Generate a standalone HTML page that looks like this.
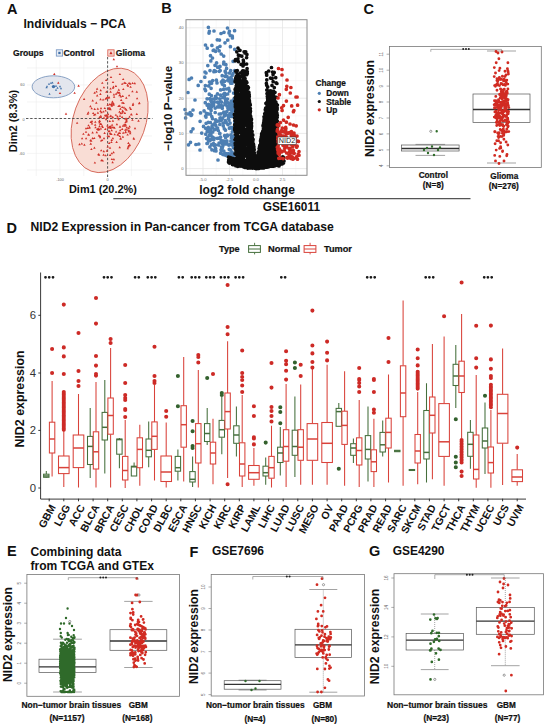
<!DOCTYPE html>
<html><head><meta charset="utf-8"><style>
html,body{margin:0;padding:0;background:#fff;width:550px;height:725px;overflow:hidden}
svg{display:block;font-family:"Liberation Sans",sans-serif}
</style></head><body>
<svg width="550" height="725" viewBox="0 0 550 725">
<rect width="550" height="725" fill="#fff"/>
<text x="7" y="14" font-size="14.5" text-anchor="start" font-weight="bold" fill="#111" >A</text>
<text x="23.5" y="28" font-size="12.1" text-anchor="start" font-weight="bold" fill="#111" >Individuals − PCA</text>
<text x="13" y="56" font-size="8.6" text-anchor="start" font-weight="bold" fill="#111" stroke="#111" stroke-width="0.22" >Groups</text>
<rect x="56.3" y="49.8" width="6.3" height="6.3" fill="#e9edf4" stroke="#6d8fbf" stroke-width="0.8"/>
<rect x="58.3" y="51.8" width="2.3" height="2.3" fill="#3f6fa8"/>
<text x="63.4" y="56" font-size="8.75" text-anchor="start" font-weight="bold" fill="#111" stroke="#111" stroke-width="0.22" >Control</text>
<rect x="107.8" y="49.8" width="6.3" height="6.3" fill="#f7dcd5" stroke="#d9584a" stroke-width="0.8"/>
<path d="M110.95 51.3 L112.6 54.3 L109.3 54.3 Z" fill="#cc2a22"/>
<text x="115.8" y="56" font-size="8.6" text-anchor="start" font-weight="bold" fill="#111" stroke="#111" stroke-width="0.22" >Glioma</text>
<line x1="36.2" y1="60" x2="36.2" y2="176" stroke="#ececec" stroke-width="0.6"/>
<line x1="60" y1="60" x2="60" y2="176" stroke="#ececec" stroke-width="0.6"/>
<line x1="83.8" y1="60" x2="83.8" y2="176" stroke="#ececec" stroke-width="0.6"/>
<line x1="107.6" y1="60" x2="107.6" y2="176" stroke="#ececec" stroke-width="0.6"/>
<line x1="131.4" y1="60" x2="131.4" y2="176" stroke="#ececec" stroke-width="0.6"/>
<line x1="27" y1="68" x2="152" y2="68" stroke="#ececec" stroke-width="0.6"/>
<line x1="27" y1="85" x2="152" y2="85" stroke="#ececec" stroke-width="0.6"/>
<line x1="27" y1="102" x2="152" y2="102" stroke="#ececec" stroke-width="0.6"/>
<line x1="27" y1="118.5" x2="152" y2="118.5" stroke="#ececec" stroke-width="0.6"/>
<line x1="27" y1="136" x2="152" y2="136" stroke="#ececec" stroke-width="0.6"/>
<line x1="27" y1="153.4" x2="152" y2="153.4" stroke="#ececec" stroke-width="0.6"/>
<line x1="27" y1="170" x2="152" y2="170" stroke="#ececec" stroke-width="0.6"/>
<ellipse cx="53.4" cy="86.8" rx="21.3" ry="11" fill="#e3e6ee" stroke="#7c97bd" stroke-width="0.9"/>
<ellipse cx="109.6" cy="120.4" rx="36" ry="54" transform="rotate(20 109.6 120.4)" fill="#f9ddd5" stroke="#d66a5c" stroke-width="0.9"/>
<line x1="26" y1="118.5" x2="152.5" y2="118.5" stroke="#444" stroke-width="0.9" stroke-dasharray="2.4 1.8"/>
<line x1="107.6" y1="57" x2="107.6" y2="177" stroke="#444" stroke-width="0.9" stroke-dasharray="2.4 1.8"/>
<text x="24.5" y="86.3" font-size="3.8" text-anchor="end" font-weight="normal" fill="#666" >60</text>
<text x="24.5" y="120.6" font-size="3.8" text-anchor="end" font-weight="normal" fill="#666" >0</text>
<text x="24.5" y="154.7" font-size="3.8" text-anchor="end" font-weight="normal" fill="#666" >-60</text>
<text x="60" y="181" font-size="3.8" text-anchor="middle" font-weight="normal" fill="#666" >-100</text>
<text x="107.6" y="181" font-size="3.8" text-anchor="middle" font-weight="normal" fill="#666" >0</text>
<path d="M111.8 152.2l1.25 2.15h-2.5zM107.2 96.2l1.25 2.15h-2.5zM102.7 159.3l1.25 2.15h-2.5zM126.3 96.5l1.25 2.15h-2.5zM100.8 114.7l1.25 2.15h-2.5zM124.9 124.5l1.25 2.15h-2.5zM108.1 113.1l1.25 2.15h-2.5zM119.7 104.6l1.25 2.15h-2.5zM109.3 125.7l1.25 2.15h-2.5zM135 127l1.25 2.15h-2.5zM133.1 102.6l1.25 2.15h-2.5zM122.2 127.8l1.25 2.15h-2.5zM104 116.6l1.25 2.15h-2.5zM126.6 117.5l1.25 2.15h-2.5zM113.9 158.1l1.25 2.15h-2.5zM90.8 120.8l1.25 2.15h-2.5zM94.3 136.9l1.25 2.15h-2.5zM110.7 125.2l1.25 2.15h-2.5zM122.6 109.5l1.25 2.15h-2.5zM118.5 104.9l1.25 2.15h-2.5zM125.6 81.9l1.25 2.15h-2.5zM97.2 94.3l1.25 2.15h-2.5zM116.6 140.8l1.25 2.15h-2.5zM120.4 107.6l1.25 2.15h-2.5zM95.5 126.2l1.25 2.15h-2.5zM95.3 120.7l1.25 2.15h-2.5zM125.7 123.5l1.25 2.15h-2.5zM116.9 123l1.25 2.15h-2.5zM94.2 113.6l1.25 2.15h-2.5zM92.7 99.3l1.25 2.15h-2.5zM103.8 150.1l1.25 2.15h-2.5zM96.3 101.5l1.25 2.15h-2.5zM110.5 132.6l1.25 2.15h-2.5zM91.2 139.5l1.25 2.15h-2.5zM105.3 127.8l1.25 2.15h-2.5zM129.4 144l1.25 2.15h-2.5zM121.2 98.8l1.25 2.15h-2.5zM113.4 85.6l1.25 2.15h-2.5zM132.4 118.7l1.25 2.15h-2.5zM129.9 106.4l1.25 2.15h-2.5zM99.2 128l1.25 2.15h-2.5zM120.6 112l1.25 2.15h-2.5zM128.6 144.5l1.25 2.15h-2.5zM122.8 94.8l1.25 2.15h-2.5zM115.9 113.7l1.25 2.15h-2.5zM104 137.1l1.25 2.15h-2.5zM101.1 122.8l1.25 2.15h-2.5zM119.9 131.8l1.25 2.15h-2.5zM119.9 93.7l1.25 2.15h-2.5zM90.4 105l1.25 2.15h-2.5zM120 125.3l1.25 2.15h-2.5zM136.8 90.5l1.25 2.15h-2.5zM132.9 103.9l1.25 2.15h-2.5zM89.5 125.9l1.25 2.15h-2.5zM124 106.3l1.25 2.15h-2.5zM101.3 111.1l1.25 2.15h-2.5zM112.6 116l1.25 2.15h-2.5zM128.7 130.3l1.25 2.15h-2.5zM106.2 78.8l1.25 2.15h-2.5zM104.8 106.9l1.25 2.15h-2.5zM120 114.7l1.25 2.15h-2.5zM114.5 126.5l1.25 2.15h-2.5zM125.3 128.5l1.25 2.15h-2.5zM110.5 108l1.25 2.15h-2.5zM100.6 109.8l1.25 2.15h-2.5zM100.9 115.9l1.25 2.15h-2.5zM111.4 132.9l1.25 2.15h-2.5zM86.1 137.2l1.25 2.15h-2.5zM107.8 115.4l1.25 2.15h-2.5zM119.9 72.9l1.25 2.15h-2.5zM129.1 81.8l1.25 2.15h-2.5zM126.8 126.1l1.25 2.15h-2.5zM128.4 141.8l1.25 2.15h-2.5zM110.1 153.8l1.25 2.15h-2.5zM98.4 153l1.25 2.15h-2.5zM107.4 124.4l1.25 2.15h-2.5zM97.3 127.8l1.25 2.15h-2.5zM124.9 111.8l1.25 2.15h-2.5zM93.2 111.9l1.25 2.15h-2.5zM118.6 118.1l1.25 2.15h-2.5zM103.1 98.4l1.25 2.15h-2.5zM91.4 147.9l1.25 2.15h-2.5zM94.7 107.8l1.25 2.15h-2.5zM129.8 143.7l1.25 2.15h-2.5zM125.6 120.9l1.25 2.15h-2.5zM113.7 126.2l1.25 2.15h-2.5zM128.3 145.7l1.25 2.15h-2.5zM120.9 95.4l1.25 2.15h-2.5zM110.2 115.2l1.25 2.15h-2.5zM108.5 96.7l1.25 2.15h-2.5zM97.9 111.5l1.25 2.15h-2.5zM99.5 125.1l1.25 2.15h-2.5zM123.2 131.5l1.25 2.15h-2.5zM99.1 153.6l1.25 2.15h-2.5zM132.4 90.2l1.25 2.15h-2.5zM99.4 119.8l1.25 2.15h-2.5zM92.6 131.3l1.25 2.15h-2.5zM120.6 137.1l1.25 2.15h-2.5zM87.7 112.5l1.25 2.15h-2.5zM139.4 101.7l1.25 2.15h-2.5zM103.9 86.2l1.25 2.15h-2.5zM111 75.9l1.25 2.15h-2.5zM115.9 84.8l1.25 2.15h-2.5zM88.9 133.6l1.25 2.15h-2.5zM112.9 119.5l1.25 2.15h-2.5zM100 134.9l1.25 2.15h-2.5zM102.1 124.6l1.25 2.15h-2.5zM106.7 114.1l1.25 2.15h-2.5zM119.4 94.2l1.25 2.15h-2.5zM113.6 103.6l1.25 2.15h-2.5zM90.8 142.4l1.25 2.15h-2.5zM112.2 101.7l1.25 2.15h-2.5zM125.4 117.6l1.25 2.15h-2.5zM94.9 161.4l1.25 2.15h-2.5zM113.6 151l1.25 2.15h-2.5zM106.9 149.6l1.25 2.15h-2.5zM101.1 139.4l1.25 2.15h-2.5zM129.5 115.5l1.25 2.15h-2.5zM88.5 124.2l1.25 2.15h-2.5zM104.6 131.8l1.25 2.15h-2.5zM98.4 127.6l1.25 2.15h-2.5zM133.7 137l1.25 2.15h-2.5zM136.8 112.8l1.25 2.15h-2.5zM126.9 128.3l1.25 2.15h-2.5zM127.6 133.4l1.25 2.15h-2.5zM113.6 102.3l1.25 2.15h-2.5zM128.7 126.9l1.25 2.15h-2.5zM117.6 133.4l1.25 2.15h-2.5zM77.1 121.7l1.25 2.15h-2.5zM102.7 125.8l1.25 2.15h-2.5zM132.6 81.9l1.25 2.15h-2.5zM107.2 116.1l1.25 2.15h-2.5zM109.2 141.8l1.25 2.15h-2.5zM103.3 110.4l1.25 2.15h-2.5zM134.8 82l1.25 2.15h-2.5zM128.9 129.1l1.25 2.15h-2.5zM124.3 81.6l1.25 2.15h-2.5zM110.5 126.9l1.25 2.15h-2.5zM129.1 94.2l1.25 2.15h-2.5zM105.6 97.6l1.25 2.15h-2.5zM122.2 101.4l1.25 2.15h-2.5zM102.1 138.9l1.25 2.15h-2.5zM94.4 146.5l1.25 2.15h-2.5zM117.4 115.2l1.25 2.15h-2.5zM122.9 135.6l1.25 2.15h-2.5zM111.8 104.7l1.25 2.15h-2.5zM107.8 126.4l1.25 2.15h-2.5zM125.4 131l1.25 2.15h-2.5zM113 86.7l1.25 2.15h-2.5zM111.7 129l1.25 2.15h-2.5zM131.6 113.4l1.25 2.15h-2.5zM86 130.7l1.25 2.15h-2.5zM118.5 91.5l1.25 2.15h-2.5zM127.8 147.2l1.25 2.15h-2.5zM109.9 125.6l1.25 2.15h-2.5zM92.6 137l1.25 2.15h-2.5zM108.6 106.9l1.25 2.15h-2.5zM116.1 92.6l1.25 2.15h-2.5zM112.6 161.1l1.25 2.15h-2.5zM112 103.5l1.25 2.15h-2.5zM84.1 97.8l1.25 2.15h-2.5zM126.7 120.1l1.25 2.15h-2.5zM112.9 116l1.25 2.15h-2.5zM90.5 139.1l1.25 2.15h-2.5zM100.7 89l1.25 2.15h-2.5zM109.8 106.7l1.25 2.15h-2.5zM131.6 113.4l1.25 2.15h-2.5zM122.1 111.5l1.25 2.15h-2.5zM129.6 125.3l1.25 2.15h-2.5zM128 84.6l1.25 2.15h-2.5zM126.4 108.6l1.25 2.15h-2.5zM119.8 134.9l1.25 2.15h-2.5zM110 146.6l1.25 2.15h-2.5zM123.6 101.8l1.25 2.15h-2.5zM112.1 123.7l1.25 2.15h-2.5zM89.5 126.5l1.25 2.15h-2.5zM130.2 132l1.25 2.15h-2.5zM109.2 129.8l1.25 2.15h-2.5zM131.2 113l1.25 2.15h-2.5zM130.8 107.8l1.25 2.15h-2.5zM114.7 133.2l1.25 2.15h-2.5zM87.6 126.9l1.25 2.15h-2.5zM127.6 83.6l1.25 2.15h-2.5zM109.8 103l1.25 2.15h-2.5zM95.2 123.6l1.25 2.15h-2.5zM99.5 116.1l1.25 2.15h-2.5zM97.8 107.6l1.25 2.15h-2.5zM134 137.6l1.25 2.15h-2.5zM96.5 90.4l1.25 2.15h-2.5zM122.2 82.7l1.25 2.15h-2.5zM125.5 123.2l1.25 2.15h-2.5zM109.8 119.9l1.25 2.15h-2.5zM110.6 90.5l1.25 2.15h-2.5zM109.1 135.2l1.25 2.15h-2.5zM123.2 77.9l1.25 2.15h-2.5zM106.1 118.1l1.25 2.15h-2.5zM81.8 142.4l1.25 2.15h-2.5zM95.2 113.2l1.25 2.15h-2.5zM88.4 133.3l1.25 2.15h-2.5zM100.4 92.8l1.25 2.15h-2.5zM137.1 97.2l1.25 2.15h-2.5zM99.2 128.1l1.25 2.15h-2.5zM130.3 82.5l1.25 2.15h-2.5zM122.1 115.8l1.25 2.15h-2.5zM118.9 131.8l1.25 2.15h-2.5zM109.2 107.8l1.25 2.15h-2.5zM122.2 105.9l1.25 2.15h-2.5zM112.4 100.4l1.25 2.15h-2.5zM107.8 134.5l1.25 2.15h-2.5zM88.3 111.3l1.25 2.15h-2.5zM103.6 153.6l1.25 2.15h-2.5zM90.6 142.7l1.25 2.15h-2.5zM100.9 127.4l1.25 2.15h-2.5zM112.2 126.1l1.25 2.15h-2.5zM114.1 95.7l1.25 2.15h-2.5zM110.9 114.6l1.25 2.15h-2.5zM118.8 88.6l1.25 2.15h-2.5zM92 122.3l1.25 2.15h-2.5zM126.5 118.9l1.25 2.15h-2.5zM106.4 90.5l1.25 2.15h-2.5zM96.8 131l1.25 2.15h-2.5zM123.3 87.9l1.25 2.15h-2.5zM92 120.1l1.25 2.15h-2.5zM101.4 159l1.25 2.15h-2.5zM130.2 130.4l1.25 2.15h-2.5zM99.8 119.8l1.25 2.15h-2.5zM100.5 98l1.25 2.15h-2.5zM120.6 137.5l1.25 2.15h-2.5zM111.9 157.9l1.25 2.15h-2.5zM98.9 134.3l1.25 2.15h-2.5zM109.7 126.2l1.25 2.15h-2.5zM110.1 131.9l1.25 2.15h-2.5zM102.3 81.7l1.25 2.15h-2.5zM108.6 130.1l1.25 2.15h-2.5zM105.1 114.1l1.25 2.15h-2.5zM83.4 132.7l1.25 2.15h-2.5zM105.7 154.2l1.25 2.15h-2.5zM106.1 114.6l1.25 2.15h-2.5zM101.2 149.2l1.25 2.15h-2.5zM116.1 130.4l1.25 2.15h-2.5zM94.6 91.6l1.25 2.15h-2.5zM91.7 107.2l1.25 2.15h-2.5zM123 124.5l1.25 2.15h-2.5zM84.4 143.5l1.25 2.15h-2.5zM125.7 130.6l1.25 2.15h-2.5zM139.1 102.1l1.25 2.15h-2.5zM105.6 109.4l1.25 2.15h-2.5zM117.9 116.9l1.25 2.15h-2.5zM138.5 119.5l1.25 2.15h-2.5zM117.6 91.1l1.25 2.15h-2.5zM111.7 138.8l1.25 2.15h-2.5zM110.5 87.4l1.25 2.15h-2.5zM82.1 137.2l1.25 2.15h-2.5zM120.2 129.1l1.25 2.15h-2.5zM118.1 133.5l1.25 2.15h-2.5zM130.6 85.7l1.25 2.15h-2.5zM112.9 137l1.25 2.15h-2.5zM119.7 146l1.25 2.15h-2.5zM99.4 121.1l1.25 2.15h-2.5zM79.5 143.1l1.25 2.15h-2.5zM86 127.2l1.25 2.15h-2.5zM106.4 96.9l1.25 2.15h-2.5zM101 107.1l1.25 2.15h-2.5zM107.7 145.4l1.25 2.15h-2.5zM100.1 136.1l1.25 2.15h-2.5zM100.2 122.6l1.25 2.15h-2.5zM119.9 125.6l1.25 2.15h-2.5zM125.4 107.5l1.25 2.15h-2.5zM111.1 103.3l1.25 2.15h-2.5zM109.1 96.1l1.25 2.15h-2.5zM119.5 91.5l1.25 2.15h-2.5zM98.3 128.7l1.25 2.15h-2.5zM97.1 87.6l1.25 2.15h-2.5zM113.9 93.3l1.25 2.15h-2.5zM119.5 110.5l1.25 2.15h-2.5zM113 80.9l1.25 2.15h-2.5zM123.2 110.4l1.25 2.15h-2.5zM124.2 123.3l1.25 2.15h-2.5zM111.4 140.9l1.25 2.15h-2.5zM107.7 103.6l1.25 2.15h-2.5zM54.3 72.8l1.25 2.15h-2.5zM58.3 81.5l1.25 2.15h-2.5zM78.6 84.6l1.25 2.15h-2.5zM74.6 91.7l1.25 2.15h-2.5zM60 91.9l1.25 2.15h-2.5zM66 112.5l1.25 2.15h-2.5zM113.8 58.1l1.25 2.15h-2.5zM117 65.2l1.25 2.15h-2.5z" fill="#d0322a"/>
<path d="M49 82.8l1.1 1.9h-2.2zM51 81.8l1.1 1.9h-2.2zM52.5 81.6l1.1 1.9h-2.2zM47 85.3l1.1 1.9h-2.2zM56 84.8l1.1 1.9h-2.2zM57.5 86.8l1.1 1.9h-2.2zM60 85.3l1.1 1.9h-2.2zM56 88.8l1.1 1.9h-2.2zM49.5 92.8l1.1 1.9h-2.2zM46.5 86.3l1.1 1.9h-2.2zM61 87.3l1.1 1.9h-2.2z" fill="#3f6fa8"/>
<circle cx="53.5" cy="86.6" r="1.7" fill="#3f6fa8"/>
<text x="69" y="192.8" font-size="10.9" text-anchor="start" font-weight="bold" fill="#111" >Dim1 (20.2%)</text>
<text x="0" y="0" font-size="11" font-weight="bold" fill="#111" text-anchor="middle" transform="translate(17.4 121) rotate(-90)">Dim2 (8.3%)</text>
<text x="161.3" y="13.2" font-size="14.5" text-anchor="start" font-weight="bold" fill="#111" >B</text>
<line x1="189.8" y1="19.7" x2="189.8" y2="175.3" stroke="#f2f2f2" stroke-width="0.5"/>
<line x1="216.2" y1="19.7" x2="216.2" y2="175.3" stroke="#f2f2f2" stroke-width="0.5"/>
<line x1="242.8" y1="19.7" x2="242.8" y2="175.3" stroke="#f2f2f2" stroke-width="0.5"/>
<line x1="269.2" y1="19.7" x2="269.2" y2="175.3" stroke="#f2f2f2" stroke-width="0.5"/>
<line x1="295.8" y1="19.7" x2="295.8" y2="175.3" stroke="#f2f2f2" stroke-width="0.5"/>
<line x1="186" y1="151" x2="307" y2="151" stroke="#f2f2f2" stroke-width="0.5"/>
<line x1="186" y1="115.8" x2="307" y2="115.8" stroke="#f2f2f2" stroke-width="0.5"/>
<line x1="186" y1="80.6" x2="307" y2="80.6" stroke="#f2f2f2" stroke-width="0.5"/>
<line x1="186" y1="45.4" x2="307" y2="45.4" stroke="#f2f2f2" stroke-width="0.5"/>
<line x1="203" y1="19.7" x2="203" y2="175.3" stroke="#e6e6e6" stroke-width="0.8"/>
<line x1="229.5" y1="19.7" x2="229.5" y2="175.3" stroke="#e6e6e6" stroke-width="0.8"/>
<line x1="256" y1="19.7" x2="256" y2="175.3" stroke="#e6e6e6" stroke-width="0.8"/>
<line x1="282.5" y1="19.7" x2="282.5" y2="175.3" stroke="#e6e6e6" stroke-width="0.8"/>
<line x1="186" y1="168.6" x2="307" y2="168.6" stroke="#e6e6e6" stroke-width="0.8"/>
<line x1="186" y1="133.4" x2="307" y2="133.4" stroke="#e6e6e6" stroke-width="0.8"/>
<line x1="186" y1="98.2" x2="307" y2="98.2" stroke="#e6e6e6" stroke-width="0.8"/>
<line x1="186" y1="63" x2="307" y2="63" stroke="#e6e6e6" stroke-width="0.8"/>
<line x1="186" y1="27.8" x2="307" y2="27.8" stroke="#e6e6e6" stroke-width="0.8"/>
<text x="203" y="181.2" font-size="4.3" text-anchor="middle" font-weight="normal" fill="#777" >-5.0</text>
<text x="229.5" y="181.2" font-size="4.3" text-anchor="middle" font-weight="normal" fill="#777" >-2.5</text>
<text x="256" y="181.2" font-size="4.3" text-anchor="middle" font-weight="normal" fill="#777" >0.0</text>
<text x="282.5" y="181.2" font-size="4.3" text-anchor="middle" font-weight="normal" fill="#777" >2.5</text>
<text x="183.5" y="170" font-size="4.2" text-anchor="end" font-weight="normal" fill="#666" >0</text>
<text x="183.5" y="134.8" font-size="4.2" text-anchor="end" font-weight="normal" fill="#666" >10</text>
<text x="183.5" y="99.6" font-size="4.2" text-anchor="end" font-weight="normal" fill="#666" >20</text>
<text x="183.5" y="64.4" font-size="4.2" text-anchor="end" font-weight="normal" fill="#666" >30</text>
<text x="183.5" y="29.2" font-size="4.2" text-anchor="end" font-weight="normal" fill="#666" >40</text>
<path d="M207.2 48.2h0M234.7 49.3h0M213.2 50.5h0M223.8 62.1h0M211.9 45.4h0M217.3 39.8h0M210.8 60.9h0M232.4 37.9h0M225 42.8h0M212.5 58h0M219.5 40.1h0M220 46.3h0M209.4 31.3h0M213.8 50h0M229.4 31.3h0M217.4 47.9h0M230.4 46.7h0M210.5 55.7h0M216.6 62.9h0M209 33.1h0M230.2 35.3h0M215.6 51.3h0M233.1 61.3h0M219.2 50.8h0M227.7 40.1h0M234.6 30.7h0M224 32.3h0M223.7 56.1h0M221.2 54h0M232.3 36.2h0M232.2 75.4h0M215.2 71.1h0M231 77.7h0M232 83.2h0M224.4 85.7h0M222.9 80.1h0M232 79.6h0M233 73.5h0M234 81.2h0M234.7 70.7h0M205 72h0M221.4 81.9h0M211.4 95.5h0M224.6 81.3h0M230.2 82.1h0M224.7 93.3h0M217 82.9h0M231.6 79.4h0M228.6 78.2h0M225.8 72.9h0M216.7 98.1h0M225.2 71.5h0M225.2 71.1h0M207.8 65.6h0M211.6 83.2h0M220.6 95.2h0M226.5 89h0M210 70.6h0M215.7 71.3h0M222.2 75.7h0M224.6 97.7h0M219.2 67.3h0M220 66.4h0M223.6 89.3h0M230.6 83.1h0M226 94.3h0M225.9 64.7h0M210.6 83.4h0M228.3 80.7h0M225.3 76.4h0M226.9 76.3h0M211.1 88.3h0M228.7 78.2h0M217.6 67.2h0M209.5 82h0M220.2 70.5h0M217.5 93.9h0M223.8 94.1h0M214.3 70.7h0M215.5 96.3h0M223 97.6h0M213.9 71.7h0M229.4 73h0M233.6 93.1h0M205.6 90.6h0M215 65.3h0M211.1 82.2h0M222.3 84.1h0M230.7 70.6h0M219.3 71.3h0M220.6 89.9h0M227.6 94h0M212.7 80.6h0M223.7 63.9h0M224.3 85.7h0M228.7 88.4h0M227.9 80.2h0M222.6 81.7h0M208.7 85.9h0M216.4 80.2h0M204.8 77.2h0M205.4 85.5h0M229.6 90.9h0M209.3 94.2h0M226.6 68.4h0M234 116.4h0M226 143.1h0M207.2 105.2h0M230.8 150.2h0M221 149.8h0M207.2 131.6h0M228.2 153.7h0M223.1 123h0M232.8 116.4h0M222.3 108.3h0M208.2 104.7h0M224.6 135.6h0M218.3 130.5h0M224.1 141.1h0M232.3 152.5h0M218.4 103h0M205.8 134.2h0M231 153h0M233.2 109.1h0M227.3 135.1h0M231.2 116.2h0M231.3 101h0M234.6 102.7h0M225.5 130.2h0M222.7 141.2h0M208.3 122.3h0M221.3 105.3h0M217.5 106.9h0M232.9 140.8h0M230.8 127.4h0M229.6 104.3h0M230.9 134.8h0M225.6 137.5h0M215.8 125.3h0M212.7 131.9h0M211.3 106.7h0M225.7 101.8h0M207.9 137h0M221.1 105.4h0M230.4 106.1h0M228.5 108.8h0M226.4 101.4h0M209.8 129.7h0M234.7 121.7h0M220.6 137.3h0M208.3 127.4h0M221.8 141.6h0M215 122.9h0M232.4 101.9h0M229.2 149.3h0M215.3 129.1h0M212.4 128h0M221 113.8h0M209.9 140.7h0M233.1 129.8h0M232.2 110.6h0M227.5 135.8h0M233.6 142.6h0M226.9 140.9h0M230.9 141.2h0M215.3 144.9h0M222.6 118h0M234.6 109.3h0M214.1 138h0M234.1 155h0M209.9 146.9h0M219.3 120.9h0M217.6 128h0M224.3 128.8h0M214.1 145.6h0M229.4 128.2h0M225.3 120.5h0M226 100.1h0M230.8 102.9h0M234.7 109.7h0M233.3 141.6h0M225 103.4h0M232.7 128h0M212.9 124.9h0M215.4 98.2h0M212.5 137.2h0M227.9 124.6h0M214.4 99.2h0M210.9 109.4h0M219.2 114h0M210 108.4h0M231.8 144.9h0M225.6 100.2h0M228.2 109.2h0M228.7 115.4h0M210 98.7h0M220.5 120.6h0M231.9 107.2h0M230.9 150.5h0M210.4 122.6h0M223.9 144.2h0M208 113.9h0M210.2 129.3h0M223.3 125.9h0M233.5 158h0M219.7 133.5h0M211.1 110.4h0M217.2 121.2h0M230.1 123.1h0M217.3 138.3h0M223.8 151.1h0M217.1 128.8h0M230.7 115.5h0M212.6 138.9h0M234.8 123.8h0M207 143.4h0M212.5 118.7h0M216 151h0M225.9 153.5h0M207.1 98.8h0M215.7 119.9h0M213.5 143.7h0M205.7 128.3h0M224.9 154.9h0M233.7 102.7h0M231.2 128h0M215.2 112.5h0M224.5 115.8h0M211.3 139.2h0M226.2 122.7h0M216.4 121.4h0M234.5 144.7h0M227 106h0M219 138.1h0M220.6 137.2h0M206.4 113.3h0M209.7 129.1h0M232.7 111h0M231.6 107.1h0M213.7 105.3h0M220.4 117.9h0M234.5 142.5h0M232.9 155.2h0M221.7 150.7h0M222.9 145.8h0M231.4 110.2h0M205.6 116.2h0M219 143.2h0M225.1 104.5h0M233.8 136.2h0M230.1 144.5h0M232.3 114.4h0M227.5 99h0M228 115.3h0M226.8 111.5h0M234 99.2h0M230 113.7h0M228 155.8h0M221.5 147h0M213.2 139.3h0M234.2 126.5h0M220 118h0M215.7 148.8h0M208.7 107.9h0M214.5 150.7h0M228.8 145.1h0M209.6 135.2h0M225.9 143.9h0M215 144.9h0M223.8 112.2h0M226.9 143.2h0M222.4 143.7h0M215.2 108.1h0M230.3 154.8h0M226.6 155.6h0M210.8 100.6h0M219.8 124.5h0M219.9 133.4h0M221.5 119.7h0M210.9 134.3h0M232.3 131.8h0M234.2 140.4h0M222.4 106.3h0M219.9 98.9h0M213.1 99h0M209.6 132.2h0M231.6 116.4h0M214.8 129.6h0M211.8 116.6h0M211.9 149.8h0M211.2 104.4h0M230.3 107.7h0M229.6 107.1h0M211.4 106.9h0M233.4 147.3h0M221.2 140.6h0M226.4 100.6h0M208.5 140.3h0M231.9 111.5h0M220.6 153.2h0M206.6 138.6h0M233.6 105.2h0M211.6 144.6h0M220.3 101.4h0M205.3 102.7h0M211.2 101.5h0M225.8 114.9h0M210.6 107.4h0M219.6 107h0M214.1 102.3h0M208.7 104.6h0M231.5 137.9h0M222.9 154.5h0M229 105.8h0M206.1 123.3h0M222.2 148.1h0M221.6 102h0M228.4 118.4h0M212 126.4h0M224.8 114.6h0M231.7 138.1h0M230.4 154.1h0M230.1 108.2h0M214.4 129.7h0M233 127.8h0M229 120.1h0M210.5 130.9h0M227.9 108.3h0M210.5 113.9h0M227.6 102.5h0M234 98.9h0M215.4 148.1h0M231.8 110.5h0M207.6 143.2h0M218.9 106h0M217.3 102.1h0M209.7 140h0M233.6 104.8h0M230 105.6h0M206.8 128.6h0M213.8 139.7h0M222.4 147.5h0M218.6 145h0M225 154.2h0M206 117.1h0M191.1 131.6h0M200.5 112.9h0M195.9 144.5h0M191.7 114.6h0M201.7 133.1h0M185 109.6h0M188.5 144.8h0M186.2 113.7h0M193 128.8h0M198.8 144h0M190.1 112.6h0M189.1 79.4h0M191.1 115.4h0M204.1 110.9h0M188.9 114h0M204.9 89h0M190.5 142.3h0M203.5 126.4h0M185.6 117.9h0M200.1 121.3h0M200.9 81.5h0M198.2 85.4h0M208.4 27.3h0M214 31h0M221 33.5h0M227.5 28h0M229 33h0M205.5 45h0M191.5 78h0M188 92.5h0M206 73h0M195 100h0M193 110h0M200 150h0M218 160h0" stroke="#4d7fb3" stroke-width="3.7" stroke-linecap="round" fill="none"/>
<path d="M254.4 156.4h0M254.6 160.7h0M242.8 113.1h0M268.2 152.6h0M238.8 94.1h0M237 86.3h0M262.2 140.9h0M235 115.2h0M242.4 135.3h0M254.8 161h0M256.8 162.8h0M262.7 144.8h0M277.4 105.1h0M264.5 143.5h0M247.3 155h0M251.7 132.7h0M274.9 106.9h0M243.7 86.1h0M275.9 132.6h0M261.3 141.1h0M239 127.7h0M266.7 151.6h0M239.4 154.8h0M242.3 109.6h0M242.5 97.6h0M262 160.3h0M244.3 132.8h0M269.2 133.7h0M244.1 122.2h0M262.5 161.2h0M244.1 133.9h0M248.3 134.7h0M238.4 109h0M260.2 155.6h0M275.5 126.2h0M271.2 143.7h0M273.1 102.6h0M243.3 97.1h0M243.5 83.7h0M260 154.2h0M236.2 87.6h0M265 147.3h0M259.8 158.1h0M265.1 158.9h0M258.6 154.1h0M246.4 88.4h0M235.4 134.2h0M237.2 141.9h0M258.9 164h0M272.7 92.1h0M263.7 134.3h0M236.7 161.1h0M264 116.8h0M262 147.9h0M247.9 87.1h0M258.4 157.8h0M266.3 117h0M273.8 131.5h0M272.9 98.8h0M268.4 97.2h0M261.4 152.4h0M260.8 163.8h0M277.1 109.6h0M251.4 130.9h0M253.1 147.9h0M266.7 161.9h0M255.4 165.7h0M256.3 164.6h0M245.4 164.1h0M263.2 153.6h0M273.1 111.3h0M272.8 132.1h0M243.5 119.3h0M273.4 99.9h0M259.2 159h0M256.2 163.5h0M264.7 113.8h0M241.7 117.7h0M244 120.7h0M256.1 165.9h0M276 129.6h0M235.7 93.1h0M264.7 130.7h0M268 162.7h0M254.4 167.3h0M244.4 145.6h0M261.6 149.9h0M263 134.9h0M263.8 153h0M242.3 163.7h0M264.9 150.9h0M249.5 114.3h0M260.7 144.7h0M268 94.8h0M274 110.5h0M254.4 155.7h0M251.2 132.8h0M268.5 92.8h0M262.6 155.8h0M269.7 110.7h0M244.3 86.8h0M276.5 124.6h0M248.7 92.4h0M249.5 156.4h0M258.1 156.8h0M235.6 97h0M268.5 144.7h0M267.9 147.8h0M257 162.5h0M264 121.4h0M274.8 153.9h0M257.4 164.7h0M262.2 146.2h0M258.4 161.4h0M270.3 95.9h0M270.9 92.2h0M259.1 162.3h0M255.7 164.6h0M275.8 125.1h0M268.8 115.5h0M264.1 160.8h0M252.8 135h0M245.8 117.3h0M253.6 145.8h0M254.7 164.8h0M260.6 140.3h0M267.5 162.1h0M244.3 100.7h0M249.5 122.3h0M265.8 153.4h0M245.5 139.8h0M253.2 156h0M256.9 165.9h0M261.6 144.3h0M271.3 112.8h0M245 97.1h0M272.9 133.4h0M274.4 141.8h0M272.2 148.2h0M265.2 144h0M270.4 125.2h0M240.3 121.2h0M235.7 140h0M273.1 95h0M256.2 163.6h0M263.4 153.4h0M239.4 158.2h0M256.3 163.6h0M243 138.9h0M276.4 107.1h0M237.4 87h0M267.2 133.6h0M256.7 164.5h0M235.7 104.2h0M242.7 117.4h0M251.6 156.3h0M256.9 168.2h0M269.2 106.7h0M261.6 151.1h0M256.5 162.8h0M246 86.8h0M267.7 99.9h0M273 97.8h0M267.2 105h0M265.3 158.6h0M254.5 168.1h0M261.6 143.4h0M274.7 114.7h0M262.8 141.4h0M251.5 122.5h0M265 124.5h0M236 109.2h0M245.2 122.1h0M242.7 123.7h0M245.5 86.5h0M256.4 162.4h0M277.3 121h0M238.3 108.5h0M236.4 89.1h0M254.8 165.7h0M261.2 164.6h0M252.7 148.3h0M250.5 143.9h0M258.8 161.8h0M247.1 163.9h0M236.9 143.9h0M251.6 126h0M237.4 85.5h0M237.8 89.1h0M254.8 160.3h0M257.2 160.4h0M255 157.2h0M260.5 162.7h0M253.7 163h0M257.1 166.4h0M262.9 144.1h0M259.8 157.1h0M257.8 158.6h0M265.5 144.4h0M272.8 102.9h0M250.2 143.4h0M258.9 156.6h0M266.5 145.7h0M276.7 106.3h0M236.2 154.6h0M252.4 147.1h0M257.4 166.6h0M263.6 139.2h0M250.3 135.7h0M249.7 110.9h0M238.3 147.6h0M261 142.5h0M253.1 156.9h0M250.9 126h0M248.8 115.4h0M273.7 126.8h0M238.5 89.7h0M238.3 110.5h0M264.1 147.9h0M238.2 138.2h0M238.5 130.2h0M263.9 147.4h0M249.8 118h0M239.8 99.4h0M274.2 97.4h0M253.2 147.6h0M248.7 125.4h0M272.6 138.2h0M250.2 139.4h0M251.3 153.5h0M268.9 116.9h0M258.9 163.5h0M271.7 135.6h0M256.7 163.7h0M276.1 117.6h0M237.8 112.4h0M238.6 152h0M273.1 153.3h0M241 96.6h0M245.5 137.5h0M256.8 161.7h0M249.3 96.2h0M256 164.6h0M264.7 116.3h0M270.2 109.2h0M269.4 99.1h0M275.4 117.4h0M264.8 120.2h0M252.9 160.3h0M276.5 134.6h0M243.3 119.8h0M275.7 156.9h0M239.9 103.6h0M242.4 154.9h0M259.1 148.5h0M239.1 140.6h0M244.9 98.7h0M244.1 140.9h0M241.9 95.9h0M258 156.6h0M246.3 88.5h0M249.8 121.4h0M254.8 165.9h0M274.9 108h0M256.9 162.7h0M276.5 119.6h0M235.1 119.1h0M268.7 106.1h0M241.3 143.5h0M245.8 89.6h0M261.6 134.2h0M257.7 165.7h0M235.2 97.6h0M269.4 153.9h0M265.2 156.7h0M254.8 157.5h0M271.4 133.8h0M252.1 137.2h0M269.9 141.5h0M257.4 166.1h0M247.6 132.1h0M248 119.8h0M249.7 120.7h0M252 143.2h0M269.5 110h0M250.5 127h0M258.2 158.6h0M276.6 113h0M260.8 156.1h0M257.5 163.5h0M251.2 134.9h0M243.1 97.7h0M275.1 120.5h0M248.5 100.8h0M240.9 150.4h0M264.7 151.5h0M269.9 113.9h0M244 143.8h0M252.5 162.5h0M253.1 150.4h0M267.2 102h0M248.4 126.8h0M252.3 137.3h0M268.4 109.3h0M235.4 129.2h0M262.3 160.5h0M256.7 163h0M261 160.7h0M272.9 117.8h0M256.2 167.2h0M276.9 126.5h0M270.7 142.5h0M261 158.1h0M245.4 108.5h0M248.6 93.8h0M254.9 165.4h0M240.6 86.5h0M258.3 157.6h0M273.7 93.5h0M260.6 162.6h0M246.8 90.4h0M258.8 151.7h0M257.6 166.3h0M242.9 81.4h0M262.9 150.9h0M266.2 134.6h0M268.6 163.1h0M254.5 165.6h0M259 163.2h0M245.8 110h0M262.2 164.8h0M241 83.1h0M254.8 162.7h0M264.3 128.1h0M255.7 161.3h0M271 126.1h0M258.8 152.2h0M257.5 163.7h0M248.6 157.6h0M273.1 106.5h0M266.8 137.2h0M237.7 147.1h0M255.7 165.6h0M264 135.9h0M247.5 125.2h0M238.2 89h0M262.9 130.8h0M269.2 140.4h0M258.4 152.1h0M268.4 149.5h0M274.9 165.7h0M247.1 130.4h0M272.7 101.2h0M249.5 124.5h0M235.9 91.7h0M256.4 163.4h0M254.6 165.3h0M273.6 100.1h0M270.3 130h0M242.6 88h0M243.1 104.4h0M271.7 157.5h0M266 140.8h0M271.3 106.8h0M264.3 119.5h0M238 137.3h0M264.6 150.1h0M245.1 102.3h0M251 127.1h0M259.6 160.4h0M273.9 112.9h0M262.4 161.9h0M253.5 153.6h0M236.5 109.4h0M245 93.1h0M246.6 98.9h0M246.3 112.4h0M272.4 92.1h0M254.3 156.8h0M273.9 122.9h0M258.2 157.2h0M262.7 135h0M256.4 163.2h0M256.5 160.7h0M268 145.5h0M245.1 118.7h0M267.9 101.4h0M255.6 166.2h0M256.1 168.1h0M265.5 129.2h0M242 144.2h0M255.8 165.3h0M245.5 94.4h0M273.3 116.9h0M268 139h0M247.8 159.2h0M260.9 149h0M260.1 164.4h0M241.7 134h0M264.4 125.1h0M237.3 122.2h0M243.5 82.4h0M256 163h0M241.2 117.2h0M236.9 136.3h0M240.6 122.1h0M252.3 163.6h0M277.3 115.2h0M244.6 134.4h0M245.5 117h0M250.7 140.5h0M260.6 165.5h0M262.2 163.2h0M264.3 122.6h0M272.3 122.6h0M270.8 128.1h0M243.6 126.1h0M257.8 164.6h0M243.7 116.5h0M253.9 148.1h0M271.3 141.8h0M237.7 102.4h0M246.1 162.7h0M246.3 123.1h0M265 145.1h0M241.2 84.5h0M267.7 107.9h0M235.5 129.9h0M238.2 90h0M267 119.2h0M251 152.5h0M240.7 106.9h0M248.1 123.3h0M240.3 99.2h0M265.2 122h0M243.7 131.8h0M252.4 148.9h0M244.2 130.9h0M243.5 158.3h0M261.8 146.4h0M276.3 138.4h0M274 141.8h0M263.4 128h0M244.3 104.5h0M252.5 153.6h0M251.1 145.8h0M246.6 144.7h0M255.1 166.1h0M244.8 151.2h0M252.8 160.3h0M264.7 133.2h0M235.6 124.6h0M237 122.7h0M255.8 164.5h0M248.1 137.5h0M249.6 104.9h0M245.6 102.9h0M255.2 160.6h0M250.6 127.3h0M267.6 112.1h0M252 149.2h0M269.9 96.8h0M273 159.1h0M256.2 165.8h0M275.9 148.9h0M244.2 101.2h0M234.7 114.6h0M245.1 114.6h0M258.1 158.7h0M269.9 91.9h0M249.3 104.9h0M265.3 123.2h0M275.3 108.7h0M261.2 149.8h0M250.7 144.8h0M257.2 164.7h0M248.6 144.2h0M239.7 154.4h0M238.7 100.3h0M253.9 153h0M242.1 88.9h0M237.1 134.9h0M268.8 127.1h0M245.3 98.9h0M249.3 105.7h0M269.9 115.4h0M265.1 128.8h0M268.6 149.3h0M262.9 153.1h0M235.8 111.5h0M276.1 150.1h0M252.5 145.1h0M273.9 96.9h0M264.6 155.3h0M247.4 100.5h0M239.4 127.3h0M257.7 161h0M248.2 98h0M246.9 124.3h0M267.1 93.8h0M264.5 135.2h0M240.6 141.5h0M274.4 139.7h0M239.4 127.8h0M258.9 164h0M246.4 137.8h0M249.9 145.5h0M237.3 90.3h0M238.1 141.1h0M277.4 145.7h0M255.6 164.6h0M251.6 162.7h0M262.4 140.1h0M275.1 103.7h0M253.8 149h0M241.9 160.4h0M239.7 152.8h0M266.8 136.6h0M235.7 139.3h0M235.6 115.4h0M268.3 104.7h0M269.1 99.4h0M277.1 153.2h0M251.6 137.6h0M273.4 161.2h0M244.3 122.8h0M262.5 134.4h0M261.6 151.6h0M272.8 133.1h0M248.7 107.2h0M266.5 123.8h0M242 149.3h0M249.2 131.2h0M255.9 165.6h0M257.3 157.6h0M272.4 132.6h0M239.3 82.3h0M275.5 143.2h0M264.5 151.8h0M263.3 125.5h0M243.1 125.2h0M241 104.2h0M262.2 156.2h0M272.6 98.8h0M255.8 164.6h0M270.3 107.9h0M262.9 145.8h0M244.6 106.7h0M256.8 167.9h0M253.8 154.2h0M274.3 147.5h0M276.7 116h0M265.9 103.3h0M272.1 149h0M256 166.2h0M262.7 132.6h0M269.1 118.9h0M237.8 91.6h0M245.4 92.8h0M257.2 158.5h0M246.2 105.8h0M258.3 155.7h0M245.4 93.2h0M267.9 117.2h0M268.4 146.7h0M238.9 158.2h0M271.1 99.8h0M242.9 122.6h0M260.5 141h0M276.8 145.1h0M271.7 106h0M262.7 144.9h0M249.3 135.8h0M246.8 108.5h0M242.7 146.8h0M254.2 165.6h0M274.6 117.5h0M243.3 80.9h0M265.8 136.2h0M252.2 158.9h0M252.7 142.4h0M254.6 158.3h0M249.2 114.2h0M259.7 160.1h0M247.1 92.8h0M254 152.1h0M266.3 120.7h0M237.3 121.5h0M253.3 146.1h0M264 129.9h0M252.6 159.9h0M245.3 120.3h0M269.7 98.4h0M258.3 165.9h0M238.4 125.2h0M265.3 122.5h0M272.4 94.2h0M261.5 148.7h0M254.7 162.7h0M261 142.3h0M277.2 133.6h0M262.9 139.1h0M237.5 118.3h0M263.1 154.9h0M243.3 124.2h0M251.1 133.4h0M242 103.2h0M266.6 142.3h0M265.4 115.2h0M255 168h0M274.4 102.9h0M249.7 125.3h0M239.3 94.4h0M256.4 167.1h0M240.3 151.1h0M247 98.2h0M252.1 164h0M253.9 156.2h0M271.2 151.3h0M241.4 82.4h0M252.4 141.8h0M275.2 130.6h0M241.6 91.9h0M265 152.6h0M235.8 148.8h0M276.1 118h0M236.3 122.2h0M246.3 149.3h0M248.9 120.6h0M272.5 93.9h0M255.9 163.6h0M247.3 101h0M250.4 136.5h0M250 133.6h0M236.5 94.4h0M257.1 162.4h0M244.1 150.4h0M247.9 119.1h0M266.1 125.8h0M251.5 131.8h0M259.8 145.4h0M260 156.1h0M260.4 149.4h0M256.2 165.1h0M236.8 150.7h0M246.2 95.1h0M271.1 126.6h0M264.1 160.1h0M269.9 131.9h0M269.7 101.9h0M236.8 98.5h0M261.7 147.7h0M262.3 165.9h0M266.2 119.6h0M266.2 132.5h0M276.1 106.8h0M268.2 123.6h0M250.8 138.6h0M240 128.2h0M238.2 148h0M262.7 141h0M240.3 129h0M258.3 153.2h0M252.7 146.4h0M240 88.5h0M236 121.4h0M263.4 127h0M264.3 143.1h0M238.9 97.7h0M259.5 161.4h0M241.8 125.7h0M256.9 164.4h0M270.6 129.7h0M255 160.7h0M264.1 149.5h0M265.5 125.3h0M237.4 94.4h0M265.3 135.7h0M258.9 152.7h0M253.9 158.4h0M266.5 153.5h0M270.9 159.8h0M258.7 156.7h0M241.5 83.6h0M269.2 152.2h0M244.1 139.5h0M260.9 162.1h0M259.9 149h0M264.5 144.2h0M265.6 143.3h0M265.4 143.7h0M235.4 114.4h0M246.9 136.2h0M255.1 165.6h0M246.9 115.1h0M241.9 89.3h0M260.9 150.4h0M257.9 160.5h0M267.2 137.2h0M274.8 132.1h0M244.6 117.7h0M265.7 108h0M258.5 160.2h0M275.5 151.7h0M263.1 162.1h0M238.7 109.8h0M277.1 138.4h0M237 104.5h0M236.5 111.9h0M264.1 125.9h0M256.9 167.2h0M242.5 112h0M256.2 166.9h0M252.1 148.5h0M255.9 163.9h0M258.4 164.5h0M249.5 109.8h0M276.6 104.3h0M270.7 94.1h0M255.7 163.9h0M261.2 148.2h0M238.9 113.6h0M236.5 148.6h0M274.9 161.1h0M270 107.9h0M259.7 151.6h0M235.1 153.7h0M276.1 109.6h0M248.5 132.6h0M267.5 137.7h0M257.3 164.4h0M254.5 162.3h0M242 144.3h0M254.9 161.7h0M244.7 103h0M257.3 165.3h0M242.4 136.1h0M248.9 105.8h0M267.9 116.9h0M266.9 140h0M252.2 134.4h0M250.4 108.6h0M251.5 156.8h0M268.3 131h0M251 147h0M266.6 128.2h0M235.3 117.2h0M237.2 89h0M244 88.2h0M274.7 133.2h0M241.3 98.7h0M243.1 146h0M272.7 106.2h0M253.7 159.7h0M245.9 86.4h0M242.2 126h0M247.4 143.1h0M257.2 162.6h0M267.6 120.6h0M237.8 137.3h0M248.3 100.5h0M256 167h0M259.2 160.9h0M276.1 128.5h0M270.4 122.3h0M274.4 98.8h0M266.7 128.7h0M241.9 141.8h0M243.5 162h0M268.8 119.7h0M254 164.6h0M247.5 159.2h0M261 153.5h0M261.1 154.5h0M272.2 115h0M257.5 161.6h0M274 140.2h0M270.6 97h0M256.2 162.1h0M241.8 98.2h0M260 162.7h0M247 151.6h0M249.5 122.5h0M273.8 121.5h0M234.6 117.8h0M259.1 154.6h0M238.6 115h0M261.8 133.7h0M253.9 164.6h0M245 91.3h0M245.6 87h0M253.3 149.1h0M255.4 164.6h0M270.3 119.7h0M243.5 137.8h0M269.3 91h0M264.1 127.9h0M268.8 101h0M269.1 133.8h0M273.8 161.3h0M249.5 108.1h0M273.6 96.8h0M237.1 104.3h0M276.3 108.6h0M242.9 100.2h0M276.2 120.8h0M266 159.5h0M267.8 103.5h0M259.1 151.1h0M255.5 165.3h0M236.1 143.7h0M244.8 103h0M264.1 136.4h0M246.5 141.6h0M263.7 122.6h0M273.9 99.9h0M275.6 118h0M267.4 131.5h0M256.5 163.5h0M271.3 117.7h0M266.1 142.2h0M259.3 160.9h0M237.6 155.9h0M257.3 159.7h0M252.1 150.2h0M254.5 159.6h0M253.4 148.2h0M258.8 157.4h0M273.1 138.3h0M276.8 126.8h0M266.9 157.6h0M258.4 162.8h0M265.9 140.3h0M262.2 139.3h0M253.1 163h0M274.8 104.5h0M238 133.3h0M253.3 162.7h0M259 153h0M262.5 139.7h0M236.4 102.3h0M236.6 117.8h0M237.9 123.4h0M239.6 84.5h0M255.2 163.7h0M276.3 151.5h0M244.2 89h0M252.6 149.6h0M245.9 94.4h0M253.7 158.7h0M254.1 160.5h0M252.5 153h0M254.5 158.4h0M254.5 159.8h0M276.1 112h0M263.1 133.6h0M265.7 109.5h0M263.3 144.7h0M244.4 95.1h0M276.6 135.9h0M235.8 122.9h0M245.5 106.5h0M251.4 127.4h0M273.6 156.3h0M269.5 99.1h0M260.1 150.4h0M266.2 121.1h0M264.7 132h0M276.9 150.2h0M249 103.8h0M246.5 110.8h0M255.9 166.9h0M272.5 110h0M268.6 125.2h0M260.5 152.9h0M277.3 124.1h0M249.3 114.1h0M247.7 104.1h0M269.7 128.1h0M249.5 127.8h0M250.3 128.1h0M248.4 93.8h0M245 141.8h0M238.7 95.3h0M246.2 115.8h0M236.4 96.5h0M244 99.6h0M248.8 100.6h0M254.8 164.5h0M269.4 115.1h0M276.4 143.9h0M261.5 160.4h0M249.2 127.8h0M270.1 94.8h0M242.3 125.3h0M244.3 87.9h0M244.1 124.7h0M265.5 161.1h0M237.5 93.5h0M259.1 164.4h0M249.9 103.5h0M271 156h0M235.4 104.2h0M246.6 103.8h0M248.3 120.8h0M258.5 160.5h0M245.1 131h0M235.6 130.9h0M246.5 149.3h0M254.5 161.5h0M272.5 104.6h0M262.8 137.5h0M252.3 150.5h0M254.7 161.2h0M268 95.6h0M235.3 131.5h0M268.4 111.8h0M243.2 88.8h0M264 132.2h0M254.1 159.5h0M272.5 91.4h0M270 154.7h0M276 123.8h0M248 94.3h0M277.3 155.5h0M235.3 145h0M262 160.9h0M274.9 127.6h0M259.6 152.5h0M254.6 156.1h0M244 118.1h0M249.2 117.7h0M235.7 138.3h0M244.1 153.7h0M249 94.7h0M238.9 104.9h0M269.6 105.6h0M237.5 158.5h0M240.3 138.8h0M242.2 115.9h0M248.8 136.7h0M242.7 104.2h0M274.5 158.5h0M250.8 125.2h0M265.1 150.4h0M275.6 142h0M273.3 111.6h0M242.5 135.7h0M271.1 107.3h0M263.1 137.7h0M264.8 132.4h0M255.7 165.3h0M237.3 159.4h0M250.2 142.7h0M259.6 146.4h0M256.3 165.3h0M258.4 162.2h0M265.9 157.8h0M236.2 140.9h0M270.8 112.3h0M266.6 109.3h0M269.5 147.1h0M236.8 159.3h0M250.5 159.3h0M271.1 113.4h0M236.2 148.5h0M242.6 148.6h0M261.6 158.3h0M257.2 163h0M258.8 157.3h0M255 167.6h0M242.5 127h0M272.3 114.6h0M257.4 156.7h0M250.9 129.7h0M264.3 117h0M247.1 132.4h0M268.5 106.8h0M243 122.2h0M267.7 151.5h0M266.1 107.9h0M260.9 142.6h0M259.8 150.2h0M270.8 110h0M241 121.2h0M239.9 94.3h0M261.3 155.1h0M260.5 160h0M270.9 91.3h0M250 122.8h0M270.9 142.4h0M248.7 167.7h0M234.7 129.8h0M276.4 120.7h0M265.1 147.2h0M265.9 114h0M252.5 154.4h0M248 101.9h0M264.1 155.5h0M275.9 144.6h0M241.6 158.8h0M242.6 97.7h0M263 125.7h0M238.9 158.4h0M269.8 108.2h0M270.7 128.8h0M261.7 165.6h0M235.6 143.6h0M257.4 166.2h0M269.4 130.7h0M263.6 134h0M258.7 158.3h0M263.3 124.6h0M267.6 111h0M235 118.9h0M260.3 152.4h0M237.4 146.4h0M264 122.4h0M247.1 119.8h0M269.3 127h0M255.3 164.6h0M249.5 105.1h0M251.9 161.6h0M241.1 144.3h0M260.3 147.1h0M247.7 126.7h0M244.2 163.8h0M254.9 166.7h0M272.1 104.9h0M263.4 153.4h0M260.9 165.2h0M249.3 148.9h0M239.6 158.2h0M255 158.5h0M243.7 157.6h0M255.2 164h0M243.2 103.7h0M274.1 97.6h0M248.8 103.6h0M268.5 159.2h0M241.2 110.4h0M271.5 138.2h0M248.5 144.8h0M266.9 133.8h0M264.3 127.2h0M239.5 150.2h0M270 120h0M249.9 138.8h0M275.8 120.8h0M264.7 131h0M267.8 113.7h0M276.1 131.4h0M250.5 139.4h0M262.1 150.6h0M270.9 101.6h0M270.7 127.7h0M245.1 129h0M268.5 94.1h0M250.5 156.8h0M261.4 136.4h0M245.3 96.3h0M272 130.2h0M243.3 130.9h0M246.1 100.1h0M261.7 138.5h0M242.5 147.8h0M267.9 112.9h0M253.8 156h0M236.1 122.1h0M276.4 134.4h0M271.2 115.3h0M269.1 153h0M238.8 150.6h0M241.5 81.1h0M273.1 93.8h0M262.5 146.7h0M263.2 156.6h0M252.5 146.7h0M264.3 135.4h0M269.4 152.7h0M237.3 143.5h0M247.9 122.1h0M259 161.5h0M249.2 99.8h0M234.4 114.4h0M272 155.1h0M267.6 115h0M252 146.4h0M254.6 163.1h0M239 145.5h0M256.9 161.4h0M276.5 110.9h0M242 91.4h0M242.7 96h0M274.2 143.1h0M242.2 136.1h0M273 123h0M249.9 144h0M265.3 118.4h0M254 158.9h0M254.3 155.4h0M248.3 114.6h0M236.6 124.4h0M236.1 152.3h0M274.3 105.5h0M248 127.7h0M241 107.2h0M250.6 153.5h0M235.2 100.3h0M265.1 116.5h0M243.1 128.7h0M266 139.7h0M250.1 130.2h0M246.3 93.5h0M260.7 143.6h0M241.8 81.1h0M268.7 149.7h0M253.7 148.5h0M243.8 86.9h0M256.2 167.8h0M247.6 122.7h0M259.6 147.5h0M245 97.8h0M244 155.1h0M252.2 145.5h0M258.3 161.2h0M263.4 148h0M250.4 147.5h0M247 132.5h0M235.6 118h0M272 129.7h0M256.7 167.9h0M268.1 115.8h0M249.4 110.6h0M268.8 98.9h0M265.5 121.5h0M257.4 161.4h0M269.1 97.9h0M266.8 117.7h0M273.3 157.5h0M250.4 116.8h0M258.9 164.2h0M255.3 163.1h0M272 164.4h0M266.2 109.6h0M246.7 153.3h0M266.2 159.1h0M257.2 167.7h0M249.5 153.2h0M274.4 150.1h0M246 103.5h0M248.9 127.5h0M253.7 150.8h0M274.6 100.7h0M244.4 135.2h0M261.9 143h0M276.4 138.4h0M238.9 138.4h0M270.2 158.8h0M245.5 94.1h0M246.4 150.5h0M276 114.8h0M266.5 110.9h0M246.5 113.6h0M248.2 109.3h0M275.7 144.1h0M275.9 102.2h0M270.8 98.7h0M259.1 165.7h0M269.8 99.3h0M237.4 100.4h0M272.6 91.6h0M263.6 135.3h0M250 126.1h0M273.3 107h0M254.4 163.9h0M263.3 138.3h0M234.7 124.6h0M244.3 137.4h0M264.5 120.6h0M235.8 94h0M265.7 123h0M249.3 156.8h0M237.5 103.8h0M263.4 138.7h0M276 108.8h0M254.4 167.8h0M262 137h0M250.5 167h0M261.4 137.4h0M271.4 103.2h0M254.3 155.5h0M235.1 129.8h0M276.6 133.6h0M263.9 158.5h0M251.6 158.5h0M252.6 142.2h0M276.3 145.5h0M244.2 163.2h0M272.8 134.8h0M257.1 165.2h0M237.4 126.8h0M269.6 102.9h0M260.3 146.7h0M237.4 146.5h0M270.7 90.9h0M241.6 109h0M260.9 162h0M256.9 165.9h0M251.3 160.9h0M245.6 138.1h0M260.7 156.3h0M273.6 93h0M274.2 139h0M238.2 109.1h0M238.6 85.1h0M264.7 130.8h0M268.8 156.6h0M269.5 120h0M235.5 103.7h0M257.3 160h0M239.9 98.6h0M248.8 102.9h0M252.1 146.4h0M246.8 90.7h0M267.2 129.6h0M235.1 89.6h0M276 122.3h0M241.8 156.7h0M261 138.7h0M244.3 137.4h0M235.9 117.1h0M250.2 112.8h0M269.5 117.7h0M236.4 109.4h0M236.7 102.6h0M264.2 126.1h0M245.6 144h0M273.7 97.9h0M237.4 125.6h0M237.2 131.2h0M271.7 130.2h0M249.8 147.4h0M260.5 146.6h0M257.4 167.1h0M269.4 137h0M245.4 122.4h0M235 113.9h0M265.3 112.7h0M244.3 139.5h0M246.3 112.2h0M263.8 140.9h0M240.3 84.8h0M272.6 127.6h0M242.5 98h0M243.3 165.7h0M238.4 94.8h0M255.1 166.7h0M240.7 145.9h0M262.4 137.6h0M240.3 129.4h0M256 168.1h0M263.7 128.6h0M273.8 102.1h0M268.8 140.9h0M237.2 98.5h0M276.6 139.5h0M271.8 92.4h0M272 95.1h0M261.1 164.2h0M274.8 124.4h0M258.9 165.8h0M238.5 121.2h0M266.1 108.9h0M253.8 165.5h0M258.6 158.7h0M253.9 166.3h0M237.8 120.7h0M270.2 112.7h0M258 164.4h0M270.5 114.4h0M261.3 164.4h0M253.5 144.5h0M259.4 159.5h0M258.9 160h0M243.1 138.9h0M236.4 97.1h0M241.4 162.5h0M245.7 105.8h0M266.6 139.7h0M246.8 99h0M272.1 108.9h0M249.5 101.1h0M245.5 104h0M239.7 157.8h0M245.3 150.4h0M240.6 96h0M250.5 111.2h0M270.3 91.3h0M274.5 116.2h0M248.6 127.3h0M245.6 103.9h0M264.9 147.1h0M250.7 136h0M258.1 160.1h0M258.3 157.3h0M257.9 163.2h0M253.9 146.8h0M247.3 111.5h0M254.3 163.3h0M238.2 136.8h0M243 140h0M257.1 166.1h0M260.2 150.2h0M260.7 156.4h0M264.2 151.7h0M259.7 147.1h0M257.9 157h0M250.8 137.8h0M265.7 149.9h0M276.9 127.3h0M260.7 152.8h0M235.8 111h0M260.8 143.8h0M266.4 120.9h0M258.1 158.2h0M238.8 102.7h0M252.9 140.5h0M241.7 113.1h0M241.5 87.5h0M265 151.7h0M277.4 154.4h0M235.5 88.5h0M253.8 154h0M241.7 125.2h0M271.7 150.3h0M255.1 161.8h0M260.7 157.1h0M260.2 158.4h0M271.7 158h0M255.1 165.7h0M244.5 118.9h0M260.4 158.2h0M255.2 160.5h0M244.9 82h0M249.2 139.4h0M253.1 149.5h0M271.6 136.9h0M253.5 155.8h0M257 163h0M274.7 111.2h0M276.2 162.3h0M269 136h0M242.6 114.3h0M235.2 143.3h0M237.1 129.8h0M276.2 118h0M260 146.9h0M245 124.1h0M239.4 86h0M243.6 114.6h0M246 109.3h0M245 140.8h0M264.1 151.1h0M260.1 150.6h0M248.9 92.4h0M256 166.6h0M261.7 160.9h0M238.1 112h0M245.9 96.4h0M241.5 101.1h0M261.2 151h0M264.9 121h0M244.9 94.5h0M239.9 113.2h0M259 161.7h0M253.6 145.7h0M254 153.4h0M251.9 159h0M273.7 111.3h0M257 164.3h0M267.5 165.3h0M256.7 166.8h0M245.3 121.8h0M260.3 154.8h0M252.9 143.4h0M239 115h0M247.4 88.1h0M266.3 150h0M239.4 136.9h0M236.3 91.5h0M250.6 165.7h0M263.2 163.6h0M237.9 136.5h0M267.3 140.4h0M268.8 112.9h0M242.3 154.2h0M257 162.5h0M261.9 145.5h0M252.3 136.8h0M272.5 91.7h0M267.6 108.1h0M245.5 150.1h0M245.4 105.9h0M260.3 153.5h0M248.1 104.1h0M248.3 132.2h0M253.3 148.2h0M267.6 102.4h0M275.9 129.1h0M262.8 151.5h0M252.5 146.7h0M250 165.9h0M254.6 160.3h0M273.4 93.6h0M247 162.7h0M238.1 130.9h0M263.7 130.4h0M242 113.6h0M251.2 136.8h0M246.7 105h0M245.8 156h0M259.6 151.2h0M274.6 110.9h0M271.6 144h0M258.6 158.5h0M264 162.9h0M254.9 164.6h0M261.5 139.5h0M245.6 116.7h0M249.4 123.1h0M245.1 148.3h0M257 161.4h0M273.2 114h0M246.8 90h0M271.1 138.5h0M264 154.3h0M241.3 122.7h0M248.7 131.3h0M252.1 160.8h0M249.7 117h0M276.3 107.3h0M270.9 95.1h0M251.9 144.3h0M250.4 141.1h0M234.7 101.3h0M253.1 150h0M261.8 159.7h0M244.7 105.6h0M275.1 127.9h0M247.8 88.7h0M245.3 111.5h0M274.5 154.5h0M265.6 131.1h0M262.9 160h0M242 129.6h0M246.5 149.6h0M256.7 161.4h0M238.4 99.1h0M240.5 114.5h0M268.1 119.1h0M251 164h0M250.9 128.2h0M252.8 151.1h0M238.4 87.2h0M277.4 126.1h0M260 153.2h0M262.2 148.2h0M236.2 131.7h0M266.9 123.5h0M267.7 118.1h0M251 167.9h0M236.7 87.7h0M257.9 156.2h0M263.6 158.7h0M260.9 153.5h0M249.1 115.7h0M255.6 164.9h0M237.4 135.9h0M242.3 115.7h0M260.9 146.1h0M275.8 132.5h0M266.8 162.3h0M246.5 111.3h0M271.5 119.5h0M238.6 104.2h0M260.9 150.8h0M252 157.9h0M268 118.6h0M261 143h0M242.1 83.5h0M256 164.9h0M245.8 141.5h0M236.7 106.6h0M245.4 83.7h0M254.3 152.8h0M254.8 158.3h0M248.1 155.4h0M266.1 119.6h0M266.7 147.9h0M260.7 146.1h0M249.9 120.8h0M236.8 122.6h0M261.1 156.7h0M270.5 99h0M243.1 96.4h0M242.6 128.2h0M236.5 143.6h0M266.7 138.4h0M271.4 92.2h0M259 165.4h0M262.6 135.5h0M256.1 163h0M254 153.3h0M259.5 147.1h0M272.7 97.9h0M236.1 109.9h0M275.7 122h0M267.2 146.8h0M253.2 160.3h0M250.2 119.7h0M248.7 157.5h0M267 105.2h0M237.4 132.4h0M247.1 95.5h0M235 120.5h0M236.1 109.6h0M257.9 166.6h0M256.7 164.9h0M241.3 115.1h0M259.4 152h0M260.8 158h0M243.7 107.1h0M269.1 117.6h0M276.5 112.7h0M245.7 106.1h0M242.5 150.7h0M251.5 123.8h0M257.2 163.8h0M237.4 148.7h0M247.9 165.2h0M250.9 125.8h0M275.8 154.8h0M262.7 165.6h0M248.7 112.3h0M238.4 151.4h0M274.8 101.6h0M238.7 96.1h0M268 110.8h0M241.6 145.1h0M253.6 157.3h0M236.5 99.1h0M238.9 86.5h0M259.9 151.9h0M249.8 151.3h0M250.9 129.6h0M237.9 120.9h0M274 116h0M254.3 167.8h0M237.8 145.7h0M257.7 164.7h0M247.6 104.3h0M270.1 123.3h0M246.7 107.7h0M273.4 141.1h0M238.3 118.5h0M242.8 141.4h0M261.7 159.4h0M259.9 158.8h0M264.6 122.5h0M270.9 141.2h0M260.4 150.4h0M258 163.2h0M238.5 155.1h0M238.9 90.2h0M241.1 82.7h0M234.9 125.6h0M247.6 155.8h0M235.5 120.6h0M245 85.3h0M255.8 164h0M266.6 108.6h0M265.9 136h0M252.8 161.5h0M245.8 114.4h0M260.4 145.2h0M264.4 127.8h0M273.9 116.3h0M258.6 159.5h0M247.5 142.2h0M248.2 103.6h0M235 139.5h0M251.6 136.1h0M240 100.9h0M238.8 106.6h0M260.8 150.8h0M276.7 109.5h0M269.6 109h0M276.8 156h0M245.1 92h0M244.8 115.2h0M265.8 126.6h0M274.4 153h0M247.4 108.6h0M247.7 131.7h0M267.9 90.9h0M261.8 142.7h0M265.2 142.9h0M242.2 133.6h0M248.1 146.9h0M263.5 127.2h0M256.4 161.5h0M257 159.2h0M272.1 103.3h0M249.8 125.1h0M237.5 151.9h0M274.9 148.3h0M254.4 155.8h0M262.5 163.3h0M259.2 151.1h0M238.6 129.2h0M248.5 146.2h0M262.3 133.1h0M273.9 149.4h0M250.4 115.7h0M261.3 141.5h0M240.2 118.5h0M258.8 162.8h0M250.3 166.2h0M240.2 132.5h0M237.4 98h0M239.4 105.4h0M257.1 166.7h0M254 156h0M274 133.4h0M243.5 97.3h0M243.7 140.2h0M270.6 124.1h0M254.5 161.6h0M251.7 139.4h0M253.8 161.8h0M249.2 144.6h0M236.3 136.5h0M242.7 90.9h0M272.1 148.3h0M248.4 117.3h0M269.7 98h0M235.9 128.6h0M234.7 128h0M271.7 141.3h0M241.8 90h0M253.2 160.3h0M277.2 117.3h0M250.3 104.9h0M261.3 156.3h0M258.3 160.7h0M276.9 113h0M276.1 121.3h0M243.9 83.1h0M265.7 118.2h0M274.8 136.5h0M257.7 161.4h0M273.6 102.9h0M270.8 144.5h0M248.3 158.7h0M235.2 89.2h0M254.9 167.4h0M267.2 134.8h0M252.5 148.8h0M251 133.4h0M251.8 131.4h0M267 156h0M258.2 164.8h0M272.6 148.6h0M275.7 133.8h0M265.2 128.1h0M248.4 97.4h0M275 155.7h0M264.2 149.4h0M272.9 103.2h0M249.2 125.3h0M239 99.5h0M254.6 155.2h0M272.2 142.7h0M247.4 116.8h0M277.2 108h0M276.4 114.4h0M238.6 121.7h0M239.1 87.7h0M245.2 152.7h0M249.2 96.7h0M252.6 160.9h0M264 134h0M256.7 165.3h0M237.4 136.9h0M248.1 130.6h0M246.9 99.5h0M258.2 156.5h0M265.8 137.7h0M239.2 128.7h0M260.3 152h0M257.4 157.9h0M243.4 105.3h0M239.3 152.9h0M272.3 103.6h0M271.7 99.1h0M251.4 118.8h0M261.8 142.8h0M238.4 127.9h0M261.7 143.7h0M273.1 166.1h0M239.4 124.5h0M254.3 158.5h0M249.6 113h0M265.9 124h0M236.5 126.8h0M251.2 146.5h0M259.8 150.8h0M261 152.4h0M247.3 138.4h0M238.5 147.8h0M276.9 113.7h0M266.3 145.8h0M235.1 115.7h0M239.5 147.3h0M254.5 165.6h0M240.4 83.8h0M273.2 148.4h0M271.7 162.7h0M262.7 132h0M270.8 132.8h0M275 101.7h0M267.3 105.3h0M253.2 147.7h0M259 167.1h0M271.7 107.1h0M274.1 108.8h0M264 120.2h0M274.9 127.7h0M235.1 130.2h0M244.3 102.7h0M262 133.2h0M247.3 123.7h0M266.5 102.8h0M257.6 160.6h0M257.2 162.4h0M269.6 146.1h0M264.5 120.6h0M270.5 104.1h0M241.5 102.6h0M241.3 86.3h0M269.8 93.2h0M264.9 133.5h0M253.4 156.8h0M271.1 132.6h0M235.8 92.1h0M265.3 109.7h0M259.4 156h0M270.7 120.3h0M236 143.4h0M268.9 161.8h0M251.2 141.5h0M271.5 138.9h0M250.1 115.8h0M237.7 117.6h0M254.5 158.4h0M252.2 143.6h0M263.3 153.8h0M246.2 85.6h0M272.3 92.8h0M250.4 122h0M275.3 124.6h0M263.5 134.2h0M259.1 158.6h0M267.5 141.8h0M245.7 83.5h0M254.2 149.7h0M270.8 119.8h0M250.5 158.6h0M254.4 157.2h0M257.1 165.6h0M263.5 139.7h0M255.9 165.3h0M259.9 165.7h0M245.4 108.1h0M267.3 96.2h0M260.6 150h0M265.6 147.8h0M259.9 160.1h0M257.5 155.5h0M254.6 162.6h0M262.7 142.7h0M253.7 157h0M258.7 162.6h0M244.4 153.5h0M273.7 100.9h0M260.5 151h0M242.1 118.2h0M258.6 153.8h0M257.8 159.8h0M272.9 101.6h0M272.9 109.9h0M266.6 130.8h0M256.6 164.3h0M272.4 121.5h0M264.7 124.7h0M256.5 165.9h0M241.6 130.1h0M247.1 111.3h0M262.2 142.3h0M251.5 143.5h0M244 96.2h0M272.6 155.6h0M244.4 146.8h0M249.6 147.6h0M257.6 161.3h0M261.2 143.8h0M264.7 120.5h0M261.5 160.8h0M253.7 154.7h0M275.5 138.2h0M254.3 157.3h0M245.3 104.5h0M249.8 151.2h0M253.3 153.1h0M274.7 151.8h0M237.4 113.4h0M275.5 128.2h0M236.5 136.8h0M250.2 162.6h0M250.1 129.8h0M247.7 119.2h0M242.6 112.6h0M259.1 153h0M243.4 84.1h0M247.6 123.4h0M243.5 89.3h0M257.6 159h0M253.1 161.9h0M266.2 111.7h0M239.8 117.2h0M250.7 116.3h0M271.6 155.4h0M264.3 123h0M271.1 104h0M264.5 133.3h0M273.3 100.1h0M244.3 94.7h0M256 166.3h0M251 135.9h0M266.8 113.5h0M243 135.7h0M253.1 150h0M276.2 141.2h0M256.9 168.4h0M236.5 110.1h0M250.8 119.2h0M235.3 149.2h0M265.9 115h0M272 145.5h0M259.3 156.6h0M248 91.8h0M263.7 135.2h0M258.2 152.3h0M248.6 134.1h0M267.1 110.8h0M264.2 118.9h0M236 110.3h0M258 159.8h0M258.9 152h0M266.8 127.9h0M267.2 120.2h0M247.7 86.6h0M237.7 114h0M260.6 158.1h0M255 161.8h0M272.5 117.2h0M253.3 143.8h0M257.4 163.3h0M246 119.5h0M237.6 125.3h0M263.4 160.4h0M248.3 135.5h0M247 101.4h0M273.4 158.6h0M272 108.4h0M262.1 150.8h0M246.6 112.7h0M270.7 137.6h0M258.8 152.4h0M271.4 94.8h0M252.1 131.4h0M257.4 160.2h0M256.5 162.7h0M251 166.5h0M270.2 105h0M266.7 152.8h0M274.3 151.4h0M268.3 147.1h0M265.4 121h0M257.6 165.5h0M257.4 168h0M235.6 92.3h0M265.7 167.2h0M246.3 104.3h0M258.2 165h0M265.7 153.4h0M274 128.8h0M262.7 150.3h0M250.6 116.6h0M242.3 110.5h0M239.9 86.1h0M261.2 164.5h0M276 117.3h0M262.9 144.3h0M244.4 144.4h0M260.7 147h0M251.6 142.3h0M262.9 146.8h0M246.8 125.5h0M236 138.5h0M253.2 153.2h0M236.2 86.1h0M269.7 129.7h0M260.2 154.9h0M240.6 101.1h0M277.2 142.2h0M249.1 123.6h0M252 135.2h0M252.7 140.4h0M269.1 117.5h0M265.2 124h0M277.5 154.2h0M265.3 121.1h0M266.7 160.1h0M271.7 126.2h0M264.6 136.8h0M255.4 166.9h0M266.7 147.8h0M270.6 163.5h0M249.9 135.5h0M258.8 160.5h0M253.1 139.4h0M265.4 122.6h0M273.2 146.2h0M270.6 162.2h0M252 131.6h0M244.3 154.9h0M258.3 160h0M237.7 126.1h0M246.7 142h0M274.5 103.5h0M249.2 129.4h0M273.7 95.5h0M264.1 158.1h0M241.8 97.1h0M236.1 106h0M272.6 143.9h0M253.1 165.6h0M248.2 99.6h0M274.2 146.5h0M250.3 143.8h0M266.7 166h0M240.2 128.6h0M254.6 155.1h0M252.8 140.8h0M243.1 104.2h0M265.7 130.3h0M249.2 94.6h0M269.2 117h0M254.7 157.9h0M275.1 135.9h0M258.9 157.8h0M270.9 143.9h0M256.7 163.8h0M273.6 93.7h0M258.8 165.3h0M248.6 154.1h0M249.9 137h0M240.5 83.6h0M244.5 118h0M255.6 166.4h0M274.8 115.7h0M269.4 117.3h0M263.7 143.8h0M254.1 152.6h0M236 95.5h0M256.6 166.2h0M244.8 105.7h0M271.9 119.7h0M236 151.6h0M241.9 130.3h0M270.8 129.7h0M268.1 144h0M237 117.4h0M259 160.9h0M256.2 165.2h0M265.4 116.2h0M275.7 109.1h0M268.4 142.8h0M270.1 124.2h0M266.2 151.2h0M274.2 144h0M246 95h0M258.9 155.7h0M243.3 101.8h0M244.8 94.6h0M252.4 161h0M242.7 124.8h0M253.2 155.5h0M246.1 150h0M241 141.4h0M266 118.7h0M248.2 135.1h0M258.6 164.1h0M261.5 155.4h0M241.8 150.2h0M270.7 117.6h0M249.6 122h0M270.1 165.4h0M259.7 162.5h0M258.2 165.4h0M236.3 104.8h0M261.4 165.9h0M269.8 98.7h0M273.8 105.1h0M272.2 163h0M243.7 138.4h0M236.5 87h0M264.1 146h0M258.8 158.5h0M258.3 159h0M268.7 111.3h0M276.9 129.4h0M241.9 124.9h0M246.3 81.6h0M261.9 139.5h0M267.5 98.1h0M258.5 155.6h0M236.8 141.5h0M261.6 137.6h0M241.6 120.1h0M246 115.5h0M239.2 141.7h0M257.1 166.2h0M259.2 151.8h0M261.4 162.5h0M245.9 133h0M263.9 131.5h0M244.6 81.1h0M264.8 148.9h0M264.9 131.4h0M253 166.7h0M267.6 150.8h0M248.9 98.2h0M252 146.9h0M258.5 165.9h0M248.4 87.6h0M247.3 130h0M241.9 128.5h0M249.3 144.9h0M268 134.1h0M270.8 92.1h0M238 93.5h0M235.9 132.7h0M255.5 166h0M244 141.3h0M276.2 116.9h0M235.8 138.8h0M275.6 151.4h0M263.8 164.5h0M248.4 127.1h0M257.4 159.4h0M261.5 160.3h0M267.8 110.1h0M276.4 109.9h0M250.6 165.5h0M237.6 157.1h0M276.6 130.8h0M235.5 143.7h0M250 141.3h0M276.9 106.1h0M264.3 153.7h0M256.3 166.2h0M244.4 93h0M261.1 163h0M268.7 92.1h0M263.4 134h0M240.1 138.5h0M264.4 143.8h0M241.6 104h0M253.8 151.8h0M242.5 94.3h0M241.9 100h0M270.2 96.5h0M265.2 127.7h0M256.2 165.7h0M246 87.5h0M252.3 135.6h0M243.1 102.6h0M251.9 141.7h0M265.2 137.4h0M242.1 104.8h0M268.4 158.8h0M241.9 88.7h0M249.6 155.7h0M243.9 81.9h0M235.9 162.9h0M254.4 157.1h0M270.8 148.3h0M253.9 159.4h0M244.7 140.9h0M257.6 163.6h0M239.9 153.6h0M253 154.7h0M276.8 162.8h0M236.6 132.2h0M254.2 155.2h0M264.3 160.1h0M246.4 117h0M238.9 146.4h0M237.6 106h0M260.1 160.9h0M256.1 166.1h0M245.5 130.3h0M245 85.4h0M265.5 130.1h0M249.6 128h0M256.5 168h0M239.7 115.7h0M273.8 100h0M254 159.4h0M239.4 123.2h0M269.7 104.4h0M242.9 90.8h0M258.2 161.2h0M255.3 159.2h0M250.3 130.8h0M272.9 99.8h0M250.6 142.5h0M263 138.7h0M263.3 167h0M264.5 128h0M244.8 85.1h0M260.8 142h0M242.8 137.6h0M273.1 130.4h0M269.5 158.5h0M277.4 128.3h0M270.8 133.8h0M271.4 94.4h0M263.3 166.5h0M260.9 140.8h0M250.1 149.7h0M271.5 117.8h0M243.9 144.9h0M248.1 119.4h0M246.6 137.6h0M274.4 141h0M252 163.7h0M257.9 163.2h0M269 120.9h0M263 136.6h0M276.2 151.9h0M235.6 147.8h0M240 143.8h0M269.2 101.9h0M258.2 157.1h0M237.8 118.2h0M254.5 158.2h0M248.6 112.9h0M247.8 125.2h0M274.6 157.7h0M258.3 153.9h0M262.1 165.6h0M262.3 151.2h0M276.6 123.9h0M259.2 162h0M250.8 164.7h0M252.3 157.2h0M237.9 87h0M247 112.9h0M251.3 128.6h0M274.1 107h0M242.2 99.5h0M269.1 158.7h0M235.3 106.9h0M263.9 132.4h0M266.1 126.8h0M241.5 116.1h0M238.1 111.1h0M238.7 99h0M272.7 92.9h0M260.1 153.8h0M260.6 156.4h0M258 161.1h0M265.2 119.1h0M264.4 147.4h0M239.9 151.6h0M238.3 117.2h0M253.3 147.3h0M255 165.7h0M258.9 163.9h0M247.6 101h0M244.5 135.5h0M259.9 150.9h0M263.2 153.3h0M273.1 165.4h0M262.3 155h0M247.5 99h0M238.3 89.4h0M241.8 99.8h0M260.1 153.4h0M274.8 114.3h0M273.3 111.6h0M267.3 145.3h0M242.6 92.4h0M259.6 154.2h0M256.7 164h0M276.3 151.4h0M270.6 161h0M257.1 165.1h0M235.4 105.8h0M247.3 151.1h0M243.6 110h0M259.2 160.2h0M243.4 130.4h0M237.4 116.4h0M247.1 144.1h0M235.8 162.8h0M251 148.1h0M252.5 144.6h0M265 114.7h0M263.8 134.7h0M269.7 118h0M266.7 126.4h0M252.9 148.9h0M274.1 107.4h0M253.5 146.6h0M254.3 156.1h0M258 163.7h0M245.1 82.1h0M244.4 139.1h0M262.9 149.5h0M263.5 133.1h0M264.6 127.9h0M268.2 96.9h0M251.5 119.5h0M269.1 98.7h0M271.6 100.6h0M273.9 103.3h0M272.5 152.4h0M268.8 144.7h0M268.2 99.1h0M252.8 141.3h0M261.2 153.1h0M243 105.9h0M244.3 96.9h0M259 156.5h0M235.6 114.6h0M272.6 92.5h0M241.5 89.3h0M275.2 102.9h0M237.2 156.2h0M255.5 164h0M259.7 163.9h0M265.5 145.1h0M262.8 131.4h0M271.7 106.9h0M241.4 107.9h0M270.4 160.5h0M237.4 98.4h0M255.9 162.6h0M268.4 102h0M261.9 145.7h0M259.9 154.8h0M267.6 113.1h0M273.7 105.7h0M256.4 165.1h0M272.9 143h0M271.5 92.1h0M260.2 155.4h0M262.2 141.8h0M250.2 132.2h0M277 126.4h0M276.1 160.5h0M239.7 114.3h0M238.3 109.7h0M249.5 124.1h0M241.7 133.9h0M262.1 146h0M270.2 104h0M257.3 163.1h0M273.9 154.2h0M271.3 133.3h0M235.7 144.8h0M262.1 139.4h0M270 143.6h0M236.6 118.5h0M236.3 139.7h0M281.9 161.5h0M283.6 158.2h0M230.3 159.8h0M239.7 164.8h0M268 166.1h0M247.9 168.1h0M246.1 165.8h0M234.7 164.8h0M250.9 167.8h0M280 162.8h0M248.7 167.8h0M273.2 165.2h0M232.6 162.2h0M278.7 158.6h0M254.2 164.5h0M232.5 158.4h0M270 165.5h0M274.7 165.1h0M255.1 166.6h0M259.7 166.7h0M258.4 166.8h0M229.3 162.9h0M271.9 163.7h0M256.7 164h0M242.5 166h0M250.9 163.1h0M268.8 164.2h0M261.9 166.6h0M280.7 159.9h0M272.7 164.1h0M260.3 163.5h0M257.8 163.2h0M243.4 162h0M246 164.3h0M236.3 163.1h0M277.3 165.3h0M238.8 162.7h0M264.7 163.2h0M266.3 162.8h0M261.7 167.3h0M258.4 166.6h0M228.7 159.9h0M282.2 160.6h0M270.3 162.8h0M230.5 160.3h0M282.9 159h0M244.8 161.4h0M265.3 161.4h0M275.2 162h0M254.2 164.8h0M246 161.9h0M235.5 158.7h0M247.1 165h0M262 166.2h0M262 168h0M276.4 165h0M276.6 159.6h0M271.8 161.6h0M238.7 162.5h0M231.8 159.3h0M271.9 165.4h0M252.8 167.9h0M265.2 163.1h0M231.7 160.2h0M276.9 164.3h0M278.5 163.2h0M229.3 163.1h0M270.2 165.9h0M275.8 162.8h0M233 159.2h0M246.5 167.1h0M228.7 161.3h0M253.9 165.1h0M260.5 167.9h0M228.6 157.2h0M251.9 163.4h0M277.8 161.2h0M269.3 165.8h0M240.1 163.2h0M282.8 156.8h0M241.2 162.6h0M244.4 165.1h0M244 160.6h0M249.6 165h0M233.2 159h0M233.2 159.2h0M241.7 165.5h0M230.8 161.7h0M281.1 161.7h0M246.7 162.8h0M241.1 161.7h0M281.7 158h0M230.7 158.7h0M271.9 161.3h0M260.3 167.7h0M265.7 163.9h0M255.2 163.2h0M238.5 163.8h0M263.3 161.9h0M283 157.3h0M242.9 164.4h0M257.4 165.3h0M232.8 162.3h0M279.8 162.1h0M276.9 159.3h0M256.8 162.1h0M282.3 163.8h0M261 161.7h0M245.5 165.3h0M236.8 159.9h0M259.5 164.3h0M261.3 162.1h0M256.9 164.7h0M253.1 166.2h0M281.9 159.4h0M255.7 168h0M263.7 167.9h0M254.4 167.1h0M250 166.8h0M240.8 163.9h0M235 163.8h0M268.1 166.9h0M275.1 163.2h0M240.1 161.4h0M249.2 165.7h0M228.5 162.1h0M280.1 161.1h0M252.4 164.4h0M233.4 164h0M276 161.4h0M246 161.8h0M244.5 164.5h0M271.7 160.9h0M243.9 160.7h0M240 165h0M256.8 164.6h0M258.2 165.3h0M271.4 165.2h0M252.4 163.8h0M277.5 163.6h0M248 164.9h0M243.2 163.9h0M280.3 162.9h0M274.2 160h0M255.4 166.1h0M234.9 161.7h0M275 163.4h0M242.5 161.5h0M237.1 162.2h0M270.7 163.5h0M244.6 163.5h0M247 163.3h0M272.3 161.1h0M271.1 166.2h0M243.3 162.8h0M263.5 161.9h0M252.7 168.1h0M232.5 164.5h0M258.1 166.3h0M230.5 157.7h0M232 162.2h0M271.1 162.2h0M240.5 160.2h0M253.1 162.7h0M251.7 163.9h0M281.1 163.8h0M259.7 164.3h0M281.8 159.8h0M242.9 166.4h0M259 167.4h0M247.8 161.4h0M238.5 165h0M265.3 164.5h0M278.5 162.8h0M270.2 164.3h0M283.2 157h0M239.1 164h0M254.6 165.3h0M261 163.6h0M236.7 161.5h0M273.8 163.5h0M243.3 165.7h0M261.9 167.5h0M240.1 164.7h0M266.4 162.6h0M258.4 167.5h0M247.9 167.7h0M283.4 160.2h0M274.6 164.5h0M243.7 166.5h0M249.8 163.5h0M258.8 166.3h0M235.5 163.8h0M270.9 165.8h0M283.1 157.6h0M237.8 166.3h0M273.9 166.1h0M265.3 164.5h0M251.2 164.3h0M229.4 158.4h0M274.8 165.9h0M244 161.7h0M239.3 165.7h0M272.8 159.7h0M282.9 162.2h0M235.7 165.7h0M235 163.2h0M281.4 158.8h0M238.4 163.7h0M258.7 167.4h0M231.6 163.2h0M245 167.5h0M282.2 157h0M254.5 165.5h0M259 162.7h0M251.1 162h0M281.2 162.3h0M260.3 161.7h0M245.2 160.8h0M256 163.9h0M233.7 162.4h0M264.6 166.6h0M281.9 161.2h0M259.7 163h0M245.7 162.9h0M268.8 162h0M246 165.5h0M260.6 165.3h0M254.5 164.6h0M270.2 166.2h0M240.1 166h0M257 167.1h0M279.7 163.3h0M253.1 163.1h0M244 167.1h0M241.2 162.1h0M247.7 161.5h0M237 164h0M255.7 166.2h0M244.7 167h0M256.3 163.3h0M248.8 161.3h0M262.7 165.7h0M248.6 166.3h0M233.7 161.8h0M257.9 163h0M232.8 164.7h0M278.5 162.6h0M268.4 161.4h0M243.9 166.3h0M271.5 164.8h0M256.1 168.6h0M260.6 165.4h0M240 165.5h0M279.5 158.5h0M245.6 165.6h0M247.1 165.6h0M249.6 161.6h0M229.4 161.1h0M258.7 164.3h0M246.8 162.9h0M252.1 167.4h0M278.7 163.6h0M267.3 161.2h0M237.8 161h0M271.3 164.5h0M279 164h0M257 161.7h0M257.4 162.4h0M250.6 163.8h0M255.2 163.6h0M268.9 162.4h0M270.3 165.7h0M264.4 162.5h0M269.6 166.1h0M258.7 168.4h0M282 159.4h0M242 163h0M245.7 163.9h0M271.8 160.8h0M282.6 159.1h0M258.1 164.9h0M236.8 165.8h0M277.4 158.6h0M274.2 165h0M262.9 166.9h0M246.2 162.4h0M279.8 164.6h0M271.4 162h0M266.9 166.7h0M247.8 162.9h0M239.7 165.6h0M254.8 167.4h0M242.9 166.3h0M240.1 166.1h0M251.2 166.1h0M236.2 164.6h0M250.7 167.9h0M244.8 167.4h0M269.2 166.5h0M254.3 167.6h0M266.1 161h0M267.3 167.1h0M239.2 165.5h0M277.2 164.9h0M270.5 161.7h0M274.4 163.3h0M251.5 166h0M264.4 164.7h0M267.3 164.6h0M274.9 161.9h0M243.3 164.5h0M241.2 160.6h0M231 161.5h0M252.1 164.2h0M234.1 160.6h0M235.8 163.8h0M245.7 167.3h0M283.5 163h0M278.2 160.4h0M279.7 160.6h0M258.6 165.4h0M258.7 166.2h0M238.2 162.3h0M272.2 159.9h0M278.5 160.9h0M239.7 162.8h0M237.4 160.2h0M270.1 164.6h0M246.3 161.7h0M252.5 168h0M265.3 165h0M234.9 159.5h0M240 165.5h0M257.6 166.8h0M246.8 164.8h0M279.7 160.6h0M252.3 162.7h0M279.5 158.3h0M229.8 158.2h0M271.2 162h0M268.5 162.9h0M239.9 160.2h0M272.2 165.1h0M257.8 167.3h0M241.4 162.7h0M236.2 165.8h0M262.5 164h0M278.5 164.9h0M245.6 167h0M246.9 72.8h0M236.8 77.5h0M243.9 75.4h0M241.2 76.5h0M237.6 83.3h0M236.9 77h0M236.7 71.7h0M238.7 83.9h0M243.4 74.8h0M244.7 77.8h0M246.9 74.6h0M247.2 72.9h0M238.4 78.1h0M237.5 75.2h0M239.9 77.6h0M239.7 81.6h0M242.6 73.9h0M239.4 82.3h0M242.9 75.3h0M242.1 72.5h0M247.3 73.4h0M242.7 70.9h0M242.3 76.8h0M237.5 79.6h0M239.6 80.4h0M238.4 81.5h0M236.2 76.3h0M240.6 72.8h0M244.4 71h0M246.9 82.6h0M243.5 71.1h0M235.9 82.2h0M235.1 81.6h0M247.3 71.7h0M236.7 84.1h0M236.2 71.9h0M239.1 76.1h0M239.6 78.2h0M243.2 70.9h0M235.7 78.2h0M244.3 73h0M243.1 80.2h0M235.2 80.9h0M242.2 71.5h0M242.6 75.7h0M239.7 55.5h0M247.1 68.6h0M243 65.9h0M238 48.1h0M235.8 71.2h0M246.6 64h0M239.8 81.3h0M239.5 55.6h0M243.5 61.7h0M246.9 73.6h0M238.4 61.6h0M246.6 57.6h0M245.7 51.8h0M235.1 60.8h0M237.9 58.8h0M244.8 52.9h0M237.2 73.5h0M236.8 51.8h0M243.8 64.6h0M241.8 56.2h0M240.6 82.6h0M246.9 54.4h0M241.1 64.4h0M237.4 80h0M235.5 59.6h0M245.1 78.7h0M237.3 70.6h0M238.4 55.2h0M237.9 78.8h0M240 50.3h0M243.9 85.6h0M236.6 88.7h0M243.3 60.1h0M236.9 77.7h0M245.6 88.8h0M244.1 51.8h0M273.2 98.5h0M274.2 72.4h0M272 85.4h0M272.5 72h0M276.9 83.5h0M271.2 106.9h0M271.2 93.9h0M273.5 91.3h0M268.4 103.6h0M274.3 87.6h0M274.5 103.9h0M270.7 107.2h0M267.6 97.2h0M268.7 71h0M266.8 90.1h0M266.6 73.9h0M266.7 75.2h0M269.2 96.8h0M266.7 85.2h0M266.4 83.4h0M271.8 100.4h0M273.1 81.6h0M266.3 72.7h0M275.7 77.7h0M276.3 97.4h0M267 93.6h0M276.2 82.9h0M266.8 79.8h0M275 92.3h0M273.1 74.6h0M270.5 78.1h0M272.2 78.3h0M275.4 105.9h0M267.7 86.9h0M269.6 99.4h0M271.5 67.5h0M270 94h0M272 103h0M273 126h0M274 148h0M279 166h0M284 161h0" stroke="#0d0d0d" stroke-width="3.7" stroke-linecap="round" fill="none"/>
<path d="M289 157.2h0M291.1 152.4h0M294.4 136.3h0M286.1 136.5h0M277.8 136.8h0M290.7 132.9h0M278.1 152h0M293.2 143.2h0M285.7 127.4h0M278.1 125.2h0M278.8 150.3h0M290.7 158.3h0M293.3 151.5h0M294.1 143.9h0M281.5 130.6h0M297.3 141h0M278.5 142.4h0M278.1 142h0M282.1 140.5h0M296 141.3h0M294.1 158.3h0M286.5 146.2h0M292.3 135.1h0M277.3 124.9h0M283.1 158.6h0M289.7 143.7h0M298.4 141.4h0M286.2 134h0M296.6 147.2h0M282.8 136.4h0M295.5 141.8h0M289.7 154.9h0M292.4 143.1h0M292.3 147h0M277.6 149.6h0M289.1 155h0M283 145.2h0M279.4 148.9h0M285.7 129.3h0M292.2 156.9h0M284.4 131.9h0M277.2 131.1h0M292.2 152.8h0M277.3 147.3h0M283 136.1h0M278.2 153.2h0M292.2 158.7h0M289.1 148.4h0M283.2 145.3h0M283.3 131.7h0M297.2 146.2h0M291.3 135.5h0M278.8 141.4h0M277.5 129.4h0M296.7 156.5h0M285.1 138.7h0M287.6 158.1h0M284.8 148.2h0M289.3 132.6h0M278.3 138.4h0M286 147h0M280.3 142.7h0M278.9 133.5h0M282.3 128.2h0M281.3 152h0M280.2 132.2h0M295.3 137.7h0M287.3 139.3h0M283.7 141h0M278.8 125.7h0M285.2 143.5h0M278.7 139.6h0M280.4 122.6h0M278.2 145.8h0M278.2 151.8h0M286.9 157.6h0M290.1 141.9h0M293.4 150.6h0M290.1 149.8h0M291.4 131.5h0M280 133.8h0M294.2 153.3h0M277.8 139.3h0M287.1 140.1h0M293.2 150.7h0M294.4 141.1h0M281.3 151.2h0M285.8 131.2h0M296.2 146.7h0M287.6 144h0M292.9 159.2h0M291.9 145.2h0M288.4 133.1h0M278.7 139.7h0M298.2 154.1h0M289.7 151.4h0M293.4 142.5h0M279.3 154.4h0M283.4 144.1h0M294.2 134.9h0M288.1 157h0M285.9 128.4h0M278.2 142.3h0M281.8 136.1h0M280.7 158.1h0M280.2 139.8h0M285.1 131.2h0M280.7 135.3h0M297.5 159.2h0M286.7 153h0M284.3 150.9h0M293.2 152.8h0M299 155.2h0M282.3 136.7h0M279 153.1h0M283.2 136.2h0M294.8 144.5h0M282.2 139.3h0M299 151.5h0M278.8 158.3h0M286.8 86.3h0M297.1 97h0M282.1 110.4h0M281.7 107.8h0M293.5 125h0M288.2 117.3h0M290.3 93h0M293.4 111.7h0M296.2 125.8h0M283.5 120.1h0M291.7 105.9h0M290 124h0M279.4 94.7h0M290.9 87.5h0M286.4 101.1h0M286.3 89.3h0M283.5 105.6h0M293.9 110.6h0M286.4 122.2h0M297.6 105.2h0M278.5 68.5h0M282 69.5h0M287 80h0M296 97h0M282 75h0M278 98h0M289 133h0M294 133h0M297 136h0" stroke="#cf2a22" stroke-width="3.7" stroke-linecap="round" fill="none"/>
<rect x="186" y="19.7" width="121" height="155.6" fill="none" stroke="#8a8a8a" stroke-width="1"/>
<rect x="277.8" y="137" width="18.4" height="7.5" fill="#fff" stroke="#333" stroke-width="0.6" rx="0.8"/>
<text x="287" y="143.3" font-size="7.2" text-anchor="middle" font-weight="normal" fill="#222" >NID2</text>
<text x="315.5" y="86.2" font-size="8.3" text-anchor="start" font-weight="bold" fill="#111" stroke="#111" stroke-width="0.22" >Change</text>
<circle cx="319.3" cy="93.3" r="1.6" fill="#4d7fb3"/>
<text x="326.3" y="96.3" font-size="8.3" text-anchor="start" font-weight="bold" fill="#111" stroke="#111" stroke-width="0.22" >Down</text>
<circle cx="319.3" cy="101.5" r="1.6" fill="#111"/>
<text x="326.3" y="104.5" font-size="8.3" text-anchor="start" font-weight="bold" fill="#111" stroke="#111" stroke-width="0.22" >Stable</text>
<circle cx="319.3" cy="109.8" r="1.6" fill="#cf2a22"/>
<text x="326.3" y="112.8" font-size="8.3" text-anchor="start" font-weight="bold" fill="#111" stroke="#111" stroke-width="0.22" >Up</text>
<text x="199.2" y="194.4" font-size="12.05" text-anchor="start" font-weight="bold" fill="#111" >log2 fold change</text>
<text x="0" y="0" font-size="11.7" font-weight="bold" fill="#111" text-anchor="middle" transform="translate(172.4 108.3) rotate(-90)">−log10 P−value</text>
<line x1="113.3" y1="198.6" x2="470.5" y2="198.6" stroke="#555" stroke-width="1.4"/>
<text x="262.7" y="211.4" font-size="11.85" text-anchor="start" font-weight="bold" fill="#111" >GSE16011</text>
<text x="363.5" y="13.8" font-size="14.5" text-anchor="start" font-weight="bold" fill="#111" >C</text>
<rect x="389.4" y="46.4" width="151.9" height="121.1" fill="none" stroke="#777" stroke-width="0.8"/>
<line x1="386.6" y1="165.8" x2="389.4" y2="165.8" stroke="#777" stroke-width="0.6"/>
<text x="0" y="0" font-size="4.6" fill="#666" text-anchor="middle" transform="translate(383.2 165.8) rotate(-90)">4</text>
<line x1="386.6" y1="149.9" x2="389.4" y2="149.9" stroke="#777" stroke-width="0.6"/>
<text x="0" y="0" font-size="4.6" fill="#666" text-anchor="middle" transform="translate(383.2 149.9) rotate(-90)">5</text>
<line x1="386.6" y1="133.9" x2="389.4" y2="133.9" stroke="#777" stroke-width="0.6"/>
<text x="0" y="0" font-size="4.6" fill="#666" text-anchor="middle" transform="translate(383.2 133.9) rotate(-90)">6</text>
<line x1="386.6" y1="118" x2="389.4" y2="118" stroke="#777" stroke-width="0.6"/>
<text x="0" y="0" font-size="4.6" fill="#666" text-anchor="middle" transform="translate(383.2 118) rotate(-90)">7</text>
<line x1="386.6" y1="102" x2="389.4" y2="102" stroke="#777" stroke-width="0.6"/>
<text x="0" y="0" font-size="4.6" fill="#666" text-anchor="middle" transform="translate(383.2 102) rotate(-90)">8</text>
<line x1="386.6" y1="86.1" x2="389.4" y2="86.1" stroke="#777" stroke-width="0.6"/>
<text x="0" y="0" font-size="4.6" fill="#666" text-anchor="middle" transform="translate(383.2 86.1) rotate(-90)">9</text>
<line x1="386.6" y1="70.2" x2="389.4" y2="70.2" stroke="#777" stroke-width="0.6"/>
<text x="0" y="0" font-size="4.6" fill="#666" text-anchor="middle" transform="translate(383.2 70.2) rotate(-90)">10</text>
<line x1="386.6" y1="54.2" x2="389.4" y2="54.2" stroke="#777" stroke-width="0.6"/>
<text x="0" y="0" font-size="4.6" fill="#666" text-anchor="middle" transform="translate(383.2 54.2) rotate(-90)">11</text>
<line x1="415.5" y1="144.4" x2="445.1" y2="144.4" stroke="#999" stroke-width="0.9"/>
<line x1="415.5" y1="155.4" x2="445.1" y2="155.4" stroke="#999" stroke-width="0.9"/>
<rect x="401.6" y="145" width="57.5" height="6" fill="none" stroke="#555" stroke-width="0.7"/>
<line x1="401.6" y1="148.5" x2="459.1" y2="148.5" stroke="#333" stroke-width="1.3"/>
<line x1="487" y1="51" x2="516" y2="51" stroke="#999" stroke-width="0.9"/>
<line x1="487" y1="163" x2="516" y2="163" stroke="#999" stroke-width="0.9"/>
<rect x="473" y="94" width="57" height="28.6" fill="none" stroke="#555" stroke-width="0.7"/>
<line x1="473" y1="109.5" x2="530" y2="109.5" stroke="#333" stroke-width="1.3"/>
<path d="M503 91.4h0M495.2 104h0M497.6 116.7h0M506.4 103.7h0M503.5 96.4h0M501.8 83.7h0M504 80.3h0M498.6 110.3h0M506.8 83.6h0M504.6 101.4h0M505.9 95.4h0M507.9 70.7h0M496.2 62.7h0M503.3 128.9h0M501.6 104.6h0M502.7 94.1h0M507.8 127h0M504 161h0M506.8 129.3h0M502.5 151.5h0M502.6 117.7h0M495.1 143.8h0M495.5 160.9h0M498.5 99.8h0M506.9 114.8h0M504.7 104.7h0M507.1 105.2h0M508.8 107.6h0M494.7 131.8h0M500.2 121h0M506.9 112.1h0M508.2 113.7h0M500.9 93.6h0M502.4 93.2h0M507.9 88.9h0M497.7 81.5h0M508.5 121.7h0M500.3 106.2h0M494.5 108.1h0M503.4 104.5h0M504.1 104.1h0M494.5 100.7h0M504.1 79h0M500.9 79.6h0M498.8 101.3h0M502.9 125.4h0M494.6 85.6h0M504.9 131.8h0M497.7 114.9h0M500.6 142.8h0M499.1 122.4h0M500.6 119h0M499.1 70.6h0M497.5 124.6h0M501.9 95.2h0M496.9 121.7h0M506 75h0M496.1 115.1h0M505.8 92.6h0M500.3 97.8h0M507.6 125.2h0M507 154.5h0M508.1 99.8h0M505.1 76.4h0M503.9 110.3h0M497.5 104.8h0M502.8 125.8h0M507.4 111.1h0M507.7 103.6h0M502.6 151h0M498.6 108.7h0M501.9 97.3h0M499.2 133.3h0M506.8 99.2h0M497.1 112.6h0M506.1 91.7h0M506 120.1h0M494.3 67.6h0M498.2 113h0M501.9 104.4h0M494.2 76.6h0M496.1 114.6h0M506.7 155.8h0M501.5 130.5h0M503.6 102h0M499.5 125.2h0M502.3 104.4h0M499.8 117.6h0M503 117h0M499.8 125.5h0M499.6 94.5h0M504.5 94.9h0M497.8 101.7h0M504.3 89.2h0M507 91.2h0M507.3 93.2h0M498 118.1h0M503.9 133.9h0M503.9 139.2h0M502.4 133.3h0M496.3 107.4h0M494.8 108h0M496.8 140.8h0M506.5 131.9h0M506.4 124.8h0M505.9 115.7h0M505.4 85.4h0M505.1 107h0M498.9 58.7h0M506.3 100.2h0M503.2 115.2h0M499.9 122h0M500.3 94.9h0M501.5 119.7h0M505.1 97.4h0M504 97.4h0M501.3 79.3h0M495.6 117.6h0M507.6 102.5h0M496.9 80.6h0M497.1 119.6h0M504.3 103.5h0M504.5 84.5h0M506.7 121.7h0M494.5 107.6h0M499.8 122.2h0M505.5 98.3h0M508.7 121.9h0M506.4 91.7h0M502.3 96.6h0M500 102.1h0M508.2 72.2h0M504.7 110.8h0M508.2 122.8h0M497 78.6h0M506.7 120.4h0M506.8 80.1h0M500.4 136.4h0M506.4 116.2h0M499.4 113.3h0M499.1 108h0M501.3 107h0M499.9 68.2h0M495.9 84.9h0M507.2 104.3h0M507.9 62.7h0M505.5 101h0M503.7 101h0M498.1 136.4h0M502 136.6h0M501.4 102.2h0M502.5 103.3h0M503.6 80.9h0M503.8 126.2h0M507.8 145h0M502.9 94.1h0M503.7 135.4h0M495.2 104.5h0M505.2 119.9h0M498.1 107.8h0M506.9 91.1h0M505.4 94.7h0M499.1 108.6h0M499.4 77.4h0M495.8 100.6h0M505.6 116.5h0M496.9 114.4h0M506.1 81.9h0M502.8 124.7h0M501.9 99h0M497.2 116.4h0M505.9 109.9h0M499.8 156.4h0M502.7 104.4h0M498.6 137.6h0M503 105.2h0M494.2 104.8h0M501.8 97.4h0M497 90.2h0M503.6 130.8h0M502.5 114.2h0M496.2 150.1h0M499.5 104.6h0M495.3 104.7h0M506.9 124.2h0M496.2 101.8h0M507.7 118.1h0M506 107.9h0M500.6 146.8h0M501.3 91.6h0M497.1 116.4h0M501.5 111h0M503.7 89.7h0M501 104.4h0M507.3 99.2h0M499.6 116h0M497.5 83.8h0M497.3 104.3h0M497.1 122.1h0M496.7 125.5h0M495.8 111.2h0M501.4 112.9h0M500.2 129.5h0M494.9 111.9h0M508.3 105.5h0M495.6 111.7h0M499.3 122.5h0M495 131.8h0M501 103.7h0M497.8 85.1h0M506.1 142h0M504.2 104.3h0M494.3 117.1h0M495.5 116h0M503.8 115.2h0M508.4 74.1h0M505.9 110.4h0M494.7 155.4h0M495.5 73h0M506.6 80.4h0M504.1 95.8h0M505 71.2h0M506.4 119.9h0M500.3 125h0M505.6 100.7h0M504.7 107.6h0M504.6 120.5h0M504.6 98.1h0M501 109.9h0M497.7 105.2h0M503.6 101.3h0M500.8 147.9h0M499.1 132.6h0M508.2 126.3h0M502.5 117.4h0M497.7 133h0M496.4 122.4h0M497.6 106.5h0M502.4 76.2h0M505.6 107.5h0M496.9 114.7h0M495.4 86.2h0M508.3 112.2h0M507.2 111.7h0M506.3 95.8h0M503.6 111.9h0M503 121.1h0M495.8 96.4h0M497.2 80.1h0M501 89.5h0M501.3 124.5h0M502.3 117.2h0M503 84.7h0M499.3 121.8h0M500.5 88.9h0M507.8 111.3h0M507 120.2h0M507.8 119.3h0M507.4 68.7h0M505.5 105.3h0M508.8 131.6h0M507.8 84.1h0M498.5 134.1h0M503.5 126.2h0M500.5 108.5h0M505 93.7h0M498.6 106.9h0M495.3 117.6h0M508.5 111.4h0M499.6 148.4h0M498.8 79.6h0M499.5 85.6h0M501 83.4h0M498.5 140.8h0M506 105.1h0M502 124.8h0M496 51.5h0M498 53h0M502 52h0M499 163.5h0" stroke="#d12b22" stroke-width="2.9" stroke-linecap="round" fill="none"/>
<path d="M436.7 131.3h0M424 150h0M432 146.5h0M438 150h0M428 153h0M434 155h0M427 148h0M440 147.5h0" stroke="#2f6d2a" stroke-width="2.4" stroke-linecap="round" fill="none"/>
<circle cx="430.8" cy="131.3" r="1.1" fill="#fff" stroke="#444" stroke-width="0.5"/>
<path d="M430.8 51.8V49.4H501.6V51.8" fill="none" stroke="#777" stroke-width="0.6"/>
<path d="M463.2 49.1h0M466 49.1h0M468.8 49.1h0" stroke="#222" stroke-width="2" stroke-linecap="round" fill="none"/>
<text x="433.3" y="178.3" font-size="8.25" text-anchor="middle" font-weight="bold" fill="#111" stroke="#111" stroke-width="0.22" >Control</text>
<text x="433.3" y="188.3" font-size="8.25" text-anchor="middle" font-weight="bold" fill="#111" stroke="#111" stroke-width="0.22" >(N=8)</text>
<text x="504.3" y="178.6" font-size="8.25" text-anchor="middle" font-weight="bold" fill="#111" stroke="#111" stroke-width="0.22" >Glioma</text>
<text x="503.8" y="188.5" font-size="8.25" text-anchor="middle" font-weight="bold" fill="#111" stroke="#111" stroke-width="0.22" >(N=276)</text>
<text x="0" y="0" font-size="12.4" font-weight="bold" fill="#111" text-anchor="middle" transform="translate(373.8 108.5) rotate(-90)">NID2 expression</text>
<text x="6.4" y="233.3" font-size="14.5" text-anchor="start" font-weight="bold" fill="#111" >D</text>
<text x="30.5" y="231.2" font-size="12.15" text-anchor="start" font-weight="bold" fill="#111" >NID2 Expression in Pan-cancer from TCGA database</text>
<text x="219" y="252" font-size="9.1" text-anchor="start" font-weight="bold" fill="#111" stroke="#111" stroke-width="0.22" >Type</text>
<line x1="254.6" y1="242.8" x2="254.6" y2="254.4" stroke="#456f3c" stroke-width="0.9"/>
<rect x="248.6" y="245.6" width="11.8" height="6.8" fill="#fff" stroke="#456f3c" stroke-width="1"/>
<line x1="248.6" y1="249" x2="260.4" y2="249" stroke="#456f3c" stroke-width="1"/>
<text x="268" y="252" font-size="9.3" text-anchor="start" font-weight="bold" fill="#111" stroke="#111" stroke-width="0.22" >Normal</text>
<line x1="310.1" y1="242.8" x2="310.1" y2="254.4" stroke="#d9423a" stroke-width="0.9"/>
<rect x="304.1" y="245.6" width="11.8" height="6.8" fill="#fff" stroke="#d9423a" stroke-width="1"/>
<line x1="304.1" y1="249" x2="315.9" y2="249" stroke="#d9423a" stroke-width="1"/>
<text x="324" y="252" font-size="9.2" text-anchor="start" font-weight="bold" fill="#111" stroke="#111" stroke-width="0.22" >Tumor</text>
<line x1="40.6" y1="272.5" x2="40.6" y2="499" stroke="#222" stroke-width="0.9"/>
<line x1="40.6" y1="499.1" x2="526" y2="499.1" stroke="#222" stroke-width="0.9"/>
<line x1="38.3" y1="488" x2="40.6" y2="488" stroke="#222" stroke-width="0.9"/>
<text x="36" y="492" font-size="11.3" text-anchor="end" font-weight="normal" fill="#333" >0</text>
<line x1="38.3" y1="430.4" x2="40.6" y2="430.4" stroke="#222" stroke-width="0.9"/>
<text x="36" y="434.4" font-size="11.3" text-anchor="end" font-weight="normal" fill="#333" >2</text>
<line x1="38.3" y1="373" x2="40.6" y2="373" stroke="#222" stroke-width="0.9"/>
<text x="36" y="377" font-size="11.3" text-anchor="end" font-weight="normal" fill="#333" >4</text>
<line x1="38.3" y1="315.3" x2="40.6" y2="315.3" stroke="#222" stroke-width="0.9"/>
<text x="36" y="319.3" font-size="11.3" text-anchor="end" font-weight="normal" fill="#333" >6</text>
<text x="0" y="0" font-size="12.4" font-weight="bold" fill="#111" text-anchor="middle" transform="translate(24.2 399) rotate(-90)">NID2 expression</text>
<path d="M46.3 471V474.2M46.3 477.3V478" stroke="#456f3c" stroke-width="1.05" fill="none"/>
<rect x="43.6" y="474.2" width="5.4" height="3.1" fill="#fff" stroke="#456f3c" stroke-width="1.05"/>
<line x1="43.6" y1="476" x2="49" y2="476" stroke="#456f3c" stroke-width="1.5"/>
<path d="M52.1 381V422.2M52.1 453V476.4" stroke="#d9423a" stroke-width="1.05" fill="none"/>
<rect x="49.4" y="422.2" width="5.4" height="30.8" fill="#fff" stroke="#d9423a" stroke-width="1.05"/>
<line x1="49.4" y1="439" x2="54.8" y2="439" stroke="#d9423a" stroke-width="1.5"/>
<path d="M63.8 430V456M63.8 473.6V487" stroke="#d9423a" stroke-width="1.05" fill="none"/>
<rect x="58.5" y="456" width="10.6" height="17.6" fill="#fff" stroke="#d9423a" stroke-width="1.05"/>
<line x1="58.5" y1="467.6" x2="69.1" y2="467.6" stroke="#d9423a" stroke-width="1.5"/>
<path d="M78.5 394V435M78.5 467.6V487.6" stroke="#d9423a" stroke-width="1.05" fill="none"/>
<rect x="73.2" y="435" width="10.6" height="32.6" fill="#fff" stroke="#d9423a" stroke-width="1.05"/>
<line x1="73.2" y1="448" x2="83.8" y2="448" stroke="#d9423a" stroke-width="1.5"/>
<path d="M90.2 408V436.4M90.2 464.5V478" stroke="#456f3c" stroke-width="1.05" fill="none"/>
<rect x="87.5" y="436.4" width="5.4" height="28.1" fill="#fff" stroke="#456f3c" stroke-width="1.05"/>
<line x1="87.5" y1="446.4" x2="92.9" y2="446.4" stroke="#456f3c" stroke-width="1.5"/>
<path d="M96 382V431.8M96 469V487.6" stroke="#d9423a" stroke-width="1.05" fill="none"/>
<rect x="93.3" y="431.8" width="5.4" height="37.2" fill="#fff" stroke="#d9423a" stroke-width="1.05"/>
<line x1="93.3" y1="451.8" x2="98.7" y2="451.8" stroke="#d9423a" stroke-width="1.5"/>
<path d="M104.8 380V412.4M104.8 440V473.6" stroke="#456f3c" stroke-width="1.05" fill="none"/>
<rect x="102.1" y="412.4" width="5.4" height="27.6" fill="#fff" stroke="#456f3c" stroke-width="1.05"/>
<line x1="102.1" y1="427.3" x2="107.5" y2="427.3" stroke="#456f3c" stroke-width="1.5"/>
<path d="M110.6 348V398M110.6 434.2V487.6" stroke="#d9423a" stroke-width="1.05" fill="none"/>
<rect x="107.9" y="398" width="5.4" height="36.2" fill="#fff" stroke="#d9423a" stroke-width="1.05"/>
<line x1="107.9" y1="415.5" x2="113.3" y2="415.5" stroke="#d9423a" stroke-width="1.5"/>
<path d="M119.4 438V439M119.4 454.2V468.2" stroke="#456f3c" stroke-width="1.05" fill="none"/>
<rect x="116.7" y="439" width="5.4" height="15.2" fill="#fff" stroke="#456f3c" stroke-width="1.05"/>
<line x1="116.7" y1="439.6" x2="122.1" y2="439.6" stroke="#456f3c" stroke-width="1.5"/>
<path d="M125.2 420V456.4M125.2 480V488" stroke="#d9423a" stroke-width="1.05" fill="none"/>
<rect x="122.5" y="456.4" width="5.4" height="23.6" fill="#fff" stroke="#d9423a" stroke-width="1.05"/>
<line x1="122.5" y1="470.5" x2="127.9" y2="470.5" stroke="#d9423a" stroke-width="1.5"/>
<path d="M134.1 462.5V466.2M134.1 476V476" stroke="#456f3c" stroke-width="1.05" fill="none"/>
<rect x="131.3" y="466.2" width="5.4" height="9.8" fill="#fff" stroke="#456f3c" stroke-width="1.05"/>
<line x1="131.3" y1="466.8" x2="136.8" y2="466.8" stroke="#456f3c" stroke-width="1.5"/>
<path d="M139.8 424.7V437.8M139.8 467.7V485.8" stroke="#d9423a" stroke-width="1.05" fill="none"/>
<rect x="137.1" y="437.8" width="5.4" height="29.9" fill="#fff" stroke="#d9423a" stroke-width="1.05"/>
<line x1="137.1" y1="449.4" x2="142.5" y2="449.4" stroke="#d9423a" stroke-width="1.5"/>
<path d="M148.7 421.5V439M148.7 456.8V467.3" stroke="#456f3c" stroke-width="1.05" fill="none"/>
<rect x="146" y="439" width="5.4" height="17.8" fill="#fff" stroke="#456f3c" stroke-width="1.05"/>
<line x1="146" y1="450.3" x2="151.4" y2="450.3" stroke="#456f3c" stroke-width="1.5"/>
<path d="M154.5 385V421.9M154.5 449.4V480.4" stroke="#d9423a" stroke-width="1.05" fill="none"/>
<rect x="151.8" y="421.9" width="5.4" height="27.5" fill="#fff" stroke="#d9423a" stroke-width="1.05"/>
<line x1="151.8" y1="436.3" x2="157.2" y2="436.3" stroke="#d9423a" stroke-width="1.5"/>
<path d="M166.2 422.5V456M166.2 481.5V487.4" stroke="#d9423a" stroke-width="1.05" fill="none"/>
<rect x="160.9" y="456" width="10.6" height="25.5" fill="#fff" stroke="#d9423a" stroke-width="1.05"/>
<line x1="160.9" y1="472" x2="171.5" y2="472" stroke="#d9423a" stroke-width="1.5"/>
<path d="M177.9 449.4V456.4M177.9 471.2V480.4" stroke="#456f3c" stroke-width="1.05" fill="none"/>
<rect x="175.2" y="456.4" width="5.4" height="14.8" fill="#fff" stroke="#456f3c" stroke-width="1.05"/>
<line x1="175.2" y1="467.7" x2="180.6" y2="467.7" stroke="#456f3c" stroke-width="1.5"/>
<path d="M183.7 357V405.7M183.7 447.2V481.5" stroke="#d9423a" stroke-width="1.05" fill="none"/>
<rect x="181" y="405.7" width="5.4" height="41.5" fill="#fff" stroke="#d9423a" stroke-width="1.05"/>
<line x1="181" y1="424.7" x2="186.4" y2="424.7" stroke="#d9423a" stroke-width="1.5"/>
<path d="M192.6 456.4V471.6M192.6 482V487" stroke="#456f3c" stroke-width="1.05" fill="none"/>
<rect x="189.8" y="471.6" width="5.4" height="10.4" fill="#fff" stroke="#456f3c" stroke-width="1.05"/>
<line x1="189.8" y1="479.3" x2="195.2" y2="479.3" stroke="#456f3c" stroke-width="1.5"/>
<path d="M198.3 370V423.6M198.3 463V487.4" stroke="#d9423a" stroke-width="1.05" fill="none"/>
<rect x="195.6" y="423.6" width="5.4" height="39.4" fill="#fff" stroke="#d9423a" stroke-width="1.05"/>
<line x1="195.6" y1="443.7" x2="201" y2="443.7" stroke="#d9423a" stroke-width="1.5"/>
<path d="M207.2 408V423.6M207.2 441.5V445" stroke="#456f3c" stroke-width="1.05" fill="none"/>
<rect x="204.5" y="423.6" width="5.4" height="17.9" fill="#fff" stroke="#456f3c" stroke-width="1.05"/>
<line x1="204.5" y1="433.5" x2="209.9" y2="433.5" stroke="#456f3c" stroke-width="1.5"/>
<path d="M213 418.8V442.2M213 464V484.3" stroke="#d9423a" stroke-width="1.05" fill="none"/>
<rect x="210.3" y="442.2" width="5.4" height="21.8" fill="#fff" stroke="#d9423a" stroke-width="1.05"/>
<line x1="210.3" y1="453" x2="215.7" y2="453" stroke="#d9423a" stroke-width="1.5"/>
<path d="M221.8 397V420.4M221.8 437.2V454.2" stroke="#456f3c" stroke-width="1.05" fill="none"/>
<rect x="219.1" y="420.4" width="5.4" height="16.8" fill="#fff" stroke="#456f3c" stroke-width="1.05"/>
<line x1="219.1" y1="429.7" x2="224.5" y2="429.7" stroke="#456f3c" stroke-width="1.5"/>
<path d="M227.6 341.2V393M227.6 429V478" stroke="#d9423a" stroke-width="1.05" fill="none"/>
<rect x="224.9" y="393" width="5.4" height="36" fill="#fff" stroke="#d9423a" stroke-width="1.05"/>
<line x1="224.9" y1="411.6" x2="230.3" y2="411.6" stroke="#d9423a" stroke-width="1.5"/>
<path d="M236.4 406.6V425.8M236.4 443.3V456.4" stroke="#456f3c" stroke-width="1.05" fill="none"/>
<rect x="233.7" y="425.8" width="5.4" height="17.5" fill="#fff" stroke="#456f3c" stroke-width="1.05"/>
<line x1="233.7" y1="435" x2="239.1" y2="435" stroke="#456f3c" stroke-width="1.5"/>
<path d="M242.2 395V442.8M242.2 476V487" stroke="#d9423a" stroke-width="1.05" fill="none"/>
<rect x="239.5" y="442.8" width="5.4" height="33.2" fill="#fff" stroke="#d9423a" stroke-width="1.05"/>
<line x1="239.5" y1="464" x2="244.9" y2="464" stroke="#d9423a" stroke-width="1.5"/>
<path d="M253.9 448V465.5M253.9 479.3V485.8" stroke="#d9423a" stroke-width="1.05" fill="none"/>
<rect x="248.6" y="465.5" width="10.6" height="13.8" fill="#fff" stroke="#d9423a" stroke-width="1.05"/>
<line x1="248.6" y1="472.7" x2="259.2" y2="472.7" stroke="#d9423a" stroke-width="1.5"/>
<path d="M265.7 457.5V466.2M265.7 476V484.7" stroke="#456f3c" stroke-width="1.05" fill="none"/>
<rect x="263" y="466.2" width="5.4" height="9.8" fill="#fff" stroke="#456f3c" stroke-width="1.05"/>
<line x1="263" y1="472.7" x2="268.4" y2="472.7" stroke="#456f3c" stroke-width="1.5"/>
<path d="M271.5 425.8V456.4M271.5 478.2V487.4" stroke="#d9423a" stroke-width="1.05" fill="none"/>
<rect x="268.8" y="456.4" width="5.4" height="21.8" fill="#fff" stroke="#d9423a" stroke-width="1.05"/>
<line x1="268.8" y1="467.7" x2="274.2" y2="467.7" stroke="#d9423a" stroke-width="1.5"/>
<path d="M280.3 427V447.2M280.3 462.5V475.6" stroke="#456f3c" stroke-width="1.05" fill="none"/>
<rect x="277.6" y="447.2" width="5.4" height="15.3" fill="#fff" stroke="#456f3c" stroke-width="1.05"/>
<line x1="277.6" y1="453" x2="283" y2="453" stroke="#456f3c" stroke-width="1.5"/>
<path d="M286.1 384V429.7M286.1 461.2V487" stroke="#d9423a" stroke-width="1.05" fill="none"/>
<rect x="283.4" y="429.7" width="5.4" height="31.5" fill="#fff" stroke="#d9423a" stroke-width="1.05"/>
<line x1="283.4" y1="446.5" x2="288.8" y2="446.5" stroke="#d9423a" stroke-width="1.5"/>
<path d="M294.9 396.4V430.2M294.9 455.3V477.1" stroke="#456f3c" stroke-width="1.05" fill="none"/>
<rect x="292.2" y="430.2" width="5.4" height="25.1" fill="#fff" stroke="#456f3c" stroke-width="1.05"/>
<line x1="292.2" y1="446.5" x2="297.6" y2="446.5" stroke="#456f3c" stroke-width="1.5"/>
<path d="M300.7 384.4V429.7M300.7 460.3V484.7" stroke="#d9423a" stroke-width="1.05" fill="none"/>
<rect x="298" y="429.7" width="5.4" height="30.6" fill="#fff" stroke="#d9423a" stroke-width="1.05"/>
<line x1="298" y1="447.2" x2="303.4" y2="447.2" stroke="#d9423a" stroke-width="1.5"/>
<path d="M312.4 369V423.6M312.4 460.3V484.7" stroke="#d9423a" stroke-width="1.05" fill="none"/>
<rect x="307.1" y="423.6" width="10.6" height="36.7" fill="#fff" stroke="#d9423a" stroke-width="1.05"/>
<line x1="307.1" y1="439" x2="317.8" y2="439" stroke="#d9423a" stroke-width="1.5"/>
<path d="M327.1 364.7V422.5M327.1 462.5V484.7" stroke="#d9423a" stroke-width="1.05" fill="none"/>
<rect x="321.8" y="422.5" width="10.6" height="40" fill="#fff" stroke="#d9423a" stroke-width="1.05"/>
<line x1="321.8" y1="443.3" x2="332.4" y2="443.3" stroke="#d9423a" stroke-width="1.5"/>
<path d="M338.8 403V408.4M338.8 426.3V426.3" stroke="#456f3c" stroke-width="1.05" fill="none"/>
<rect x="336.1" y="408.4" width="5.4" height="17.9" fill="#fff" stroke="#456f3c" stroke-width="1.05"/>
<line x1="336.1" y1="411.6" x2="341.5" y2="411.6" stroke="#456f3c" stroke-width="1.5"/>
<path d="M344.6 371.3V411.2M344.6 444.4V485.8" stroke="#d9423a" stroke-width="1.05" fill="none"/>
<rect x="341.9" y="411.2" width="5.4" height="33.2" fill="#fff" stroke="#d9423a" stroke-width="1.05"/>
<line x1="341.9" y1="425.4" x2="347.3" y2="425.4" stroke="#d9423a" stroke-width="1.5"/>
<path d="M353.4 438.5V443.7M353.4 455.3V463" stroke="#456f3c" stroke-width="1.05" fill="none"/>
<rect x="350.7" y="443.7" width="5.4" height="11.6" fill="#fff" stroke="#456f3c" stroke-width="1.05"/>
<line x1="350.7" y1="448" x2="356.1" y2="448" stroke="#456f3c" stroke-width="1.5"/>
<path d="M359.2 400V437.8M359.2 465V487" stroke="#d9423a" stroke-width="1.05" fill="none"/>
<rect x="356.5" y="437.8" width="5.4" height="27.2" fill="#fff" stroke="#d9423a" stroke-width="1.05"/>
<line x1="356.5" y1="450.5" x2="361.9" y2="450.5" stroke="#d9423a" stroke-width="1.5"/>
<path d="M368 406.6V435.6M368 459V481.5" stroke="#456f3c" stroke-width="1.05" fill="none"/>
<rect x="365.3" y="435.6" width="5.4" height="23.4" fill="#fff" stroke="#456f3c" stroke-width="1.05"/>
<line x1="365.3" y1="449.4" x2="370.8" y2="449.4" stroke="#456f3c" stroke-width="1.5"/>
<path d="M373.9 418.8V449.8M373.9 471.6V487" stroke="#d9423a" stroke-width="1.05" fill="none"/>
<rect x="371.1" y="449.8" width="5.4" height="21.8" fill="#fff" stroke="#d9423a" stroke-width="1.05"/>
<line x1="371.1" y1="461.8" x2="376.6" y2="461.8" stroke="#d9423a" stroke-width="1.5"/>
<path d="M382.7 420.4V432.4M382.7 452V456.4" stroke="#456f3c" stroke-width="1.05" fill="none"/>
<rect x="380" y="432.4" width="5.4" height="19.6" fill="#fff" stroke="#456f3c" stroke-width="1.05"/>
<line x1="380" y1="444.8" x2="385.4" y2="444.8" stroke="#456f3c" stroke-width="1.5"/>
<path d="M388.5 374.5V418.2M388.5 448V482.5" stroke="#d9423a" stroke-width="1.05" fill="none"/>
<rect x="385.8" y="418.2" width="5.4" height="29.8" fill="#fff" stroke="#d9423a" stroke-width="1.05"/>
<line x1="385.8" y1="432.4" x2="391.2" y2="432.4" stroke="#d9423a" stroke-width="1.5"/>
<path d="M397.3 450.3V450.3M397.3 451.7V451.7" stroke="#456f3c" stroke-width="1.05" fill="none"/>
<rect x="394.6" y="450.3" width="5.4" height="1.4" fill="#fff" stroke="#456f3c" stroke-width="1.05"/>
<line x1="394.6" y1="451" x2="400" y2="451" stroke="#456f3c" stroke-width="1.5"/>
<path d="M403.1 300.4V365.8M403.1 416.7V485.8" stroke="#d9423a" stroke-width="1.05" fill="none"/>
<rect x="400.4" y="365.8" width="5.4" height="50.9" fill="#fff" stroke="#d9423a" stroke-width="1.05"/>
<line x1="400.4" y1="393" x2="405.8" y2="393" stroke="#d9423a" stroke-width="1.5"/>
<path d="M411.9 469.5V469.5M411.9 470.5V470.5" stroke="#456f3c" stroke-width="1.05" fill="none"/>
<rect x="409.2" y="469.5" width="5.4" height="1" fill="#fff" stroke="#456f3c" stroke-width="1.05"/>
<line x1="409.2" y1="470" x2="414.6" y2="470" stroke="#456f3c" stroke-width="1.5"/>
<path d="M417.7 392V434.5M417.7 463V484.3" stroke="#d9423a" stroke-width="1.05" fill="none"/>
<rect x="415" y="434.5" width="5.4" height="28.5" fill="#fff" stroke="#d9423a" stroke-width="1.05"/>
<line x1="415" y1="451" x2="420.4" y2="451" stroke="#d9423a" stroke-width="1.5"/>
<path d="M426.5 383.3V410.5M426.5 459V482.5" stroke="#456f3c" stroke-width="1.05" fill="none"/>
<rect x="423.8" y="410.5" width="5.4" height="48.5" fill="#fff" stroke="#456f3c" stroke-width="1.05"/>
<line x1="423.8" y1="452.4" x2="429.2" y2="452.4" stroke="#456f3c" stroke-width="1.5"/>
<path d="M432.4 344V397M432.4 433V479.3" stroke="#d9423a" stroke-width="1.05" fill="none"/>
<rect x="429.6" y="397" width="5.4" height="36" fill="#fff" stroke="#d9423a" stroke-width="1.05"/>
<line x1="429.6" y1="415.3" x2="435.1" y2="415.3" stroke="#d9423a" stroke-width="1.5"/>
<path d="M444.1 336.4V403.6M444.1 456.4V485.8" stroke="#d9423a" stroke-width="1.05" fill="none"/>
<rect x="438.8" y="403.6" width="10.6" height="52.8" fill="#fff" stroke="#d9423a" stroke-width="1.05"/>
<line x1="438.8" y1="441.8" x2="449.4" y2="441.8" stroke="#d9423a" stroke-width="1.5"/>
<path d="M455.8 345V364.3M455.8 385.5V408" stroke="#456f3c" stroke-width="1.05" fill="none"/>
<rect x="453.1" y="364.3" width="5.4" height="21.2" fill="#fff" stroke="#456f3c" stroke-width="1.05"/>
<line x1="453.1" y1="376" x2="458.5" y2="376" stroke="#456f3c" stroke-width="1.5"/>
<path d="M461.6 314V361.2M461.6 392.5V438" stroke="#d9423a" stroke-width="1.05" fill="none"/>
<rect x="458.9" y="361.2" width="5.4" height="31.3" fill="#fff" stroke="#d9423a" stroke-width="1.05"/>
<line x1="458.9" y1="376" x2="464.3" y2="376" stroke="#d9423a" stroke-width="1.5"/>
<path d="M470.4 420V432.3M470.4 456.3V468.7" stroke="#456f3c" stroke-width="1.05" fill="none"/>
<rect x="467.7" y="432.3" width="5.4" height="24" fill="#fff" stroke="#456f3c" stroke-width="1.05"/>
<line x1="467.7" y1="444.3" x2="473.1" y2="444.3" stroke="#456f3c" stroke-width="1.5"/>
<path d="M476.2 374.9V435M476.2 479V487.7" stroke="#d9423a" stroke-width="1.05" fill="none"/>
<rect x="473.5" y="435" width="5.4" height="44" fill="#fff" stroke="#d9423a" stroke-width="1.05"/>
<line x1="473.5" y1="469.4" x2="478.9" y2="469.4" stroke="#d9423a" stroke-width="1.5"/>
<path d="M485 402.5V428M485 448V474" stroke="#456f3c" stroke-width="1.05" fill="none"/>
<rect x="482.3" y="428" width="5.4" height="20" fill="#fff" stroke="#456f3c" stroke-width="1.05"/>
<line x1="482.3" y1="441" x2="487.8" y2="441" stroke="#456f3c" stroke-width="1.5"/>
<path d="M490.9 410V447M490.9 473V487.7" stroke="#d9423a" stroke-width="1.05" fill="none"/>
<rect x="488.1" y="447" width="5.4" height="26" fill="#fff" stroke="#d9423a" stroke-width="1.05"/>
<line x1="488.1" y1="462.6" x2="493.6" y2="462.6" stroke="#d9423a" stroke-width="1.5"/>
<path d="M502.6 348.4V394.3M502.6 443.2V485" stroke="#d9423a" stroke-width="1.05" fill="none"/>
<rect x="497.3" y="394.3" width="10.6" height="48.9" fill="#fff" stroke="#d9423a" stroke-width="1.05"/>
<line x1="497.3" y1="413.5" x2="507.9" y2="413.5" stroke="#d9423a" stroke-width="1.5"/>
<path d="M517.2 454V469.8M517.2 481.6V485.7" stroke="#d9423a" stroke-width="1.05" fill="none"/>
<rect x="511.9" y="469.8" width="10.6" height="11.8" fill="#fff" stroke="#d9423a" stroke-width="1.05"/>
<line x1="511.9" y1="477" x2="522.5" y2="477" stroke="#d9423a" stroke-width="1.5"/>
<path d="M52.1 349h0M52.1 373h0M63.8 304.6h0M63.8 347.4h0M63.8 356.4h0M63.8 374h0M63.8 392h0M63.8 393.3h0M63.8 394.6h0M63.8 395.9h0M63.8 397.2h0M63.8 398.5h0M63.8 399.8h0M63.8 401.1h0M63.8 402.4h0M63.8 403.7h0M63.8 405h0M63.8 406.3h0M63.8 407.6h0M63.8 408.9h0M63.8 410.2h0M63.8 411.5h0M63.8 412.8h0M63.8 414.1h0M63.8 415.4h0M63.8 416.7h0M63.8 418h0M63.8 419.3h0M63.8 420.6h0M63.8 421.9h0M63.8 423.2h0M63.8 424.5h0M63.8 425.8h0M63.8 427.1h0M63.8 428.4h0M63.8 429.7h0M78.5 333h0M78.5 371h0M78.5 381h0M78.5 386h0M96 298h0M96 323.6h0M96 356h0M96 365.6h0M96 374h0M96 375.6h0M110.6 339h0M110.6 343h0M125.2 365h0M125.2 383h0M125.2 395h0M125.2 398h0M125.2 400h0M125.2 409h0M125.2 410h0M125.2 417h0M154.5 346.8h0M154.5 376h0M154.5 381h0M154.5 383h0M166.2 411h0M166.2 416.7h0M198.3 355h0M198.3 357h0M198.3 362.5h0M213 374h0M227.6 285h0M227.6 327h0M227.6 334.2h0M227.6 484.3h0M242.2 350.5h0M242.2 373h0M242.2 377h0M242.2 380h0M242.2 385.5h0M242.2 392h0M253.9 406.2h0M253.9 416h0M253.9 437.2h0M253.9 438.5h0M253.9 444.4h0M271.5 363h0M271.5 387.6h0M271.5 407h0M271.5 411h0M271.5 416h0M271.5 421.5h0M286.1 351.2h0M286.1 360.8h0M286.1 364.3h0M286.1 370.8h0M286.1 379.6h0M300.7 364.7h0M300.7 376h0M312.4 310.6h0M312.4 345.5h0M312.4 353.4h0M312.4 362h0M312.4 367.6h0M327.1 341.6h0M327.1 352.7h0M327.1 360.4h0M359.2 368h0M359.2 379h0M359.2 380h0M359.2 383h0M359.2 386.5h0M359.2 392h0M373.9 379h0M373.9 380h0M373.9 392h0M373.9 409.5h0M373.9 412.7h0M388.5 338h0M388.5 362h0M417.7 349.5h0M417.7 358.2h0M417.7 365.4h0M417.7 371.7h0M417.7 373h0M417.7 374.3h0M417.7 375.6h0M417.7 376.9h0M417.7 378.2h0M417.7 379.5h0M417.7 380.8h0M417.7 382.1h0M417.7 383.4h0M417.7 384.7h0M417.7 386h0M417.7 387.3h0M417.7 388.6h0M444.1 316.3h0M461.6 282.5h0M461.6 440h0M461.6 441.6h0M461.6 443.2h0M461.6 444.8h0M461.6 446.4h0M461.6 448h0M461.6 449.6h0M461.6 451.2h0M461.6 452.8h0M461.6 454.4h0M461.6 456h0M461.6 457.6h0M461.6 459.2h0M461.6 460.8h0M461.6 462.4h0M461.6 471.6h0M461.6 476h0M476.2 325.8h0M476.2 358.3h0M476.2 367.6h0M490.9 325.6h0M490.9 359.4h0M490.9 368.7h0M490.9 376h0M490.9 378h0M490.9 384.8h0M490.9 386.2h0M490.9 387.6h0M490.9 389h0M490.9 390.4h0M490.9 391.8h0M490.9 393.2h0M490.9 394.6h0M490.9 396h0M490.9 397.4h0M490.9 398.8h0M490.9 400.2h0M490.9 401.6h0M490.9 403h0M490.9 404.4h0M490.9 405.8h0M490.9 407.2h0M517.2 447.6h0" stroke="#cd2a26" stroke-width="4.1" stroke-linecap="round" fill="none"/>
<path d="M177.9 406.2h0M177.9 376h0M192.6 421h0M192.6 431.3h0M192.6 446h0M192.6 448h0M207.2 378h0M221.8 393h0M221.8 395h0M265.7 442.6h0M280.3 407.3h0M280.3 412h0M280.3 423.2h0M294.9 362.5h0M294.9 368h0M338.8 468.8h0M455.8 419.3h0M455.8 456.8h0M455.8 462.5h0M455.8 467.3h0M485 395.8h0" stroke="#33612d" stroke-width="4.1" stroke-linecap="round" fill="none"/>
<line x1="49.2" y1="498.7" x2="49.2" y2="501.3" stroke="#222" stroke-width="0.9"/>
<text x="0" y="0" font-size="10.5" font-weight="bold" fill="#111" text-anchor="end" transform="translate(56 507) rotate(-62)">GBM</text>
<line x1="63.8" y1="498.7" x2="63.8" y2="501.3" stroke="#222" stroke-width="0.9"/>
<text x="0" y="0" font-size="10.5" font-weight="bold" fill="#111" text-anchor="end" transform="translate(70.6 507) rotate(-62)">LGG</text>
<line x1="78.5" y1="498.7" x2="78.5" y2="501.3" stroke="#222" stroke-width="0.9"/>
<text x="0" y="0" font-size="10.5" font-weight="bold" fill="#111" text-anchor="end" transform="translate(85.2 507) rotate(-62)">ACC</text>
<line x1="93.1" y1="498.7" x2="93.1" y2="501.3" stroke="#222" stroke-width="0.9"/>
<text x="0" y="0" font-size="10.5" font-weight="bold" fill="#111" text-anchor="end" transform="translate(99.9 507) rotate(-62)">BLCA</text>
<line x1="107.7" y1="498.7" x2="107.7" y2="501.3" stroke="#222" stroke-width="0.9"/>
<text x="0" y="0" font-size="10.5" font-weight="bold" fill="#111" text-anchor="end" transform="translate(114.5 507) rotate(-62)">BRCA</text>
<line x1="122.3" y1="498.7" x2="122.3" y2="501.3" stroke="#222" stroke-width="0.9"/>
<text x="0" y="0" font-size="10.5" font-weight="bold" fill="#111" text-anchor="end" transform="translate(129.1 507) rotate(-62)">CESC</text>
<line x1="136.9" y1="498.7" x2="136.9" y2="501.3" stroke="#222" stroke-width="0.9"/>
<text x="0" y="0" font-size="10.5" font-weight="bold" fill="#111" text-anchor="end" transform="translate(143.8 507) rotate(-62)">CHOL</text>
<line x1="151.6" y1="498.7" x2="151.6" y2="501.3" stroke="#222" stroke-width="0.9"/>
<text x="0" y="0" font-size="10.5" font-weight="bold" fill="#111" text-anchor="end" transform="translate(158.4 507) rotate(-62)">COAD</text>
<line x1="166.2" y1="498.7" x2="166.2" y2="501.3" stroke="#222" stroke-width="0.9"/>
<text x="0" y="0" font-size="10.5" font-weight="bold" fill="#111" text-anchor="end" transform="translate(173 507) rotate(-62)">DLBC</text>
<line x1="180.8" y1="498.7" x2="180.8" y2="501.3" stroke="#222" stroke-width="0.9"/>
<text x="0" y="0" font-size="10.5" font-weight="bold" fill="#111" text-anchor="end" transform="translate(187.6 507) rotate(-62)">ESCA</text>
<line x1="195.4" y1="498.7" x2="195.4" y2="501.3" stroke="#222" stroke-width="0.9"/>
<text x="0" y="0" font-size="10.5" font-weight="bold" fill="#111" text-anchor="end" transform="translate(202.2 507) rotate(-62)">HNSC</text>
<line x1="210.1" y1="498.7" x2="210.1" y2="501.3" stroke="#222" stroke-width="0.9"/>
<text x="0" y="0" font-size="10.5" font-weight="bold" fill="#111" text-anchor="end" transform="translate(216.9 507) rotate(-62)">KICH</text>
<line x1="224.7" y1="498.7" x2="224.7" y2="501.3" stroke="#222" stroke-width="0.9"/>
<text x="0" y="0" font-size="10.5" font-weight="bold" fill="#111" text-anchor="end" transform="translate(231.5 507) rotate(-62)">KIRC</text>
<line x1="239.3" y1="498.7" x2="239.3" y2="501.3" stroke="#222" stroke-width="0.9"/>
<text x="0" y="0" font-size="10.5" font-weight="bold" fill="#111" text-anchor="end" transform="translate(246.1 507) rotate(-62)">KIRP</text>
<line x1="253.9" y1="498.7" x2="253.9" y2="501.3" stroke="#222" stroke-width="0.9"/>
<text x="0" y="0" font-size="10.5" font-weight="bold" fill="#111" text-anchor="end" transform="translate(260.8 507) rotate(-62)">LAML</text>
<line x1="268.6" y1="498.7" x2="268.6" y2="501.3" stroke="#222" stroke-width="0.9"/>
<text x="0" y="0" font-size="10.5" font-weight="bold" fill="#111" text-anchor="end" transform="translate(275.4 507) rotate(-62)">LIHC</text>
<line x1="283.2" y1="498.7" x2="283.2" y2="501.3" stroke="#222" stroke-width="0.9"/>
<text x="0" y="0" font-size="10.5" font-weight="bold" fill="#111" text-anchor="end" transform="translate(290 507) rotate(-62)">LUAD</text>
<line x1="297.8" y1="498.7" x2="297.8" y2="501.3" stroke="#222" stroke-width="0.9"/>
<text x="0" y="0" font-size="10.5" font-weight="bold" fill="#111" text-anchor="end" transform="translate(304.6 507) rotate(-62)">LUSC</text>
<line x1="312.4" y1="498.7" x2="312.4" y2="501.3" stroke="#222" stroke-width="0.9"/>
<text x="0" y="0" font-size="10.5" font-weight="bold" fill="#111" text-anchor="end" transform="translate(319.2 507) rotate(-62)">MESO</text>
<line x1="327.1" y1="498.7" x2="327.1" y2="501.3" stroke="#222" stroke-width="0.9"/>
<text x="0" y="0" font-size="10.5" font-weight="bold" fill="#111" text-anchor="end" transform="translate(333.9 507) rotate(-62)">OV</text>
<line x1="341.7" y1="498.7" x2="341.7" y2="501.3" stroke="#222" stroke-width="0.9"/>
<text x="0" y="0" font-size="10.5" font-weight="bold" fill="#111" text-anchor="end" transform="translate(348.5 507) rotate(-62)">PAAD</text>
<line x1="356.3" y1="498.7" x2="356.3" y2="501.3" stroke="#222" stroke-width="0.9"/>
<text x="0" y="0" font-size="10.5" font-weight="bold" fill="#111" text-anchor="end" transform="translate(363.1 507) rotate(-62)">PCPG</text>
<line x1="370.9" y1="498.7" x2="370.9" y2="501.3" stroke="#222" stroke-width="0.9"/>
<text x="0" y="0" font-size="10.5" font-weight="bold" fill="#111" text-anchor="end" transform="translate(377.8 507) rotate(-62)">PRAD</text>
<line x1="385.6" y1="498.7" x2="385.6" y2="501.3" stroke="#222" stroke-width="0.9"/>
<text x="0" y="0" font-size="10.5" font-weight="bold" fill="#111" text-anchor="end" transform="translate(392.4 507) rotate(-62)">READ</text>
<line x1="400.2" y1="498.7" x2="400.2" y2="501.3" stroke="#222" stroke-width="0.9"/>
<text x="0" y="0" font-size="10.5" font-weight="bold" fill="#111" text-anchor="end" transform="translate(407 507) rotate(-62)">SARC</text>
<line x1="414.8" y1="498.7" x2="414.8" y2="501.3" stroke="#222" stroke-width="0.9"/>
<text x="0" y="0" font-size="10.5" font-weight="bold" fill="#111" text-anchor="end" transform="translate(421.6 507) rotate(-62)">SKCM</text>
<line x1="429.4" y1="498.7" x2="429.4" y2="501.3" stroke="#222" stroke-width="0.9"/>
<text x="0" y="0" font-size="10.5" font-weight="bold" fill="#111" text-anchor="end" transform="translate(436.2 507) rotate(-62)">STAD</text>
<line x1="444.1" y1="498.7" x2="444.1" y2="501.3" stroke="#222" stroke-width="0.9"/>
<text x="0" y="0" font-size="10.5" font-weight="bold" fill="#111" text-anchor="end" transform="translate(450.9 507) rotate(-62)">TGCT</text>
<line x1="458.7" y1="498.7" x2="458.7" y2="501.3" stroke="#222" stroke-width="0.9"/>
<text x="0" y="0" font-size="10.5" font-weight="bold" fill="#111" text-anchor="end" transform="translate(465.5 507) rotate(-62)">THCA</text>
<line x1="473.3" y1="498.7" x2="473.3" y2="501.3" stroke="#222" stroke-width="0.9"/>
<text x="0" y="0" font-size="10.5" font-weight="bold" fill="#111" text-anchor="end" transform="translate(480.1 507) rotate(-62)">THYM</text>
<line x1="487.9" y1="498.7" x2="487.9" y2="501.3" stroke="#222" stroke-width="0.9"/>
<text x="0" y="0" font-size="10.5" font-weight="bold" fill="#111" text-anchor="end" transform="translate(494.8 507) rotate(-62)">UCEC</text>
<line x1="502.6" y1="498.7" x2="502.6" y2="501.3" stroke="#222" stroke-width="0.9"/>
<text x="0" y="0" font-size="10.5" font-weight="bold" fill="#111" text-anchor="end" transform="translate(509.4 507) rotate(-62)">UCS</text>
<line x1="517.2" y1="498.7" x2="517.2" y2="501.3" stroke="#222" stroke-width="0.9"/>
<text x="0" y="0" font-size="10.5" font-weight="bold" fill="#111" text-anchor="end" transform="translate(524 507) rotate(-62)">UVM</text>
<path d="M45.5 277.3h0M49.2 277.3h0M53 277.3h0M104 277.3h0M107.7 277.3h0M111.5 277.3h0M135.1 277.3h0M138.8 277.3h0M147.8 277.3h0M151.6 277.3h0M155.3 277.3h0M178.9 277.3h0M182.7 277.3h0M191.7 277.3h0M195.4 277.3h0M199.2 277.3h0M206.3 277.3h0M210.1 277.3h0M213.8 277.3h0M220.9 277.3h0M224.7 277.3h0M228.4 277.3h0M235.6 277.3h0M239.3 277.3h0M243.1 277.3h0M281.3 277.3h0M285.1 277.3h0M367.2 277.3h0M370.9 277.3h0M374.7 277.3h0M425.7 277.3h0M429.4 277.3h0M433.2 277.3h0M484.2 277.3h0M487.9 277.3h0M491.7 277.3h0" stroke="#1a1a1a" stroke-width="2.8" stroke-linecap="round" fill="none"/>
<text x="6.9" y="556.4" font-size="14.5" text-anchor="start" font-weight="bold" fill="#111" >E</text>
<text x="30.5" y="556.2" font-size="12.05" text-anchor="start" font-weight="bold" fill="#111" >Combining data</text>
<text x="30.5" y="570" font-size="12.05" text-anchor="start" font-weight="bold" fill="#111" >from TCGA and GTEx</text>
<rect x="26.9" y="574.5" width="152.5" height="121.8" fill="none" stroke="#777" stroke-width="0.8"/>
<line x1="24.2" y1="683.2" x2="26.9" y2="683.2" stroke="#777" stroke-width="0.6"/>
<text x="0" y="0" font-size="4.6" fill="#666" text-anchor="middle" transform="translate(20.8 683.2) rotate(-90)">0</text>
<line x1="24.2" y1="663.2" x2="26.9" y2="663.2" stroke="#777" stroke-width="0.6"/>
<text x="0" y="0" font-size="4.6" fill="#666" text-anchor="middle" transform="translate(20.8 663.2) rotate(-90)">1</text>
<line x1="24.2" y1="643.2" x2="26.9" y2="643.2" stroke="#777" stroke-width="0.6"/>
<text x="0" y="0" font-size="4.6" fill="#666" text-anchor="middle" transform="translate(20.8 643.2) rotate(-90)">2</text>
<line x1="24.2" y1="623.2" x2="26.9" y2="623.2" stroke="#777" stroke-width="0.6"/>
<text x="0" y="0" font-size="4.6" fill="#666" text-anchor="middle" transform="translate(20.8 623.2) rotate(-90)">3</text>
<line x1="24.2" y1="603.2" x2="26.9" y2="603.2" stroke="#777" stroke-width="0.6"/>
<text x="0" y="0" font-size="4.6" fill="#666" text-anchor="middle" transform="translate(20.8 603.2) rotate(-90)">4</text>
<line x1="24.2" y1="583.2" x2="26.9" y2="583.2" stroke="#777" stroke-width="0.6"/>
<text x="0" y="0" font-size="4.6" fill="#666" text-anchor="middle" transform="translate(20.8 583.2) rotate(-90)">5</text>
<line x1="53.1" y1="639.2" x2="81.9" y2="639.2" stroke="#999" stroke-width="0.9"/>
<line x1="53.1" y1="692" x2="81.9" y2="692" stroke="#999" stroke-width="0.9"/>
<rect x="39" y="659.2" width="57" height="13.4" fill="none" stroke="#555" stroke-width="0.7"/>
<line x1="39" y1="666.8" x2="96" y2="666.8" stroke="#333" stroke-width="1.3"/>
<line x1="124.2" y1="601.4" x2="152.6" y2="601.4" stroke="#999" stroke-width="0.9"/>
<line x1="124.2" y1="667.5" x2="152.6" y2="667.5" stroke="#999" stroke-width="0.9"/>
<rect x="110" y="629.7" width="56.8" height="20.6" fill="none" stroke="#555" stroke-width="0.7"/>
<line x1="110" y1="641" x2="166.8" y2="641" stroke="#333" stroke-width="1.3"/>
<path d="M71.6 651.9h0M73.7 652.2h0M60.5 664.3h0M66.8 638.9h0M73.1 682.3h0M61.7 659.9h0M67.9 657.1h0M68.4 667.7h0M64.1 674.4h0M73.3 666.7h0M71.6 666.7h0M62.1 659h0M60.1 661.4h0M72.6 661.8h0M74.2 668.1h0M72.7 674.1h0M67.9 658.5h0M69.9 692h0M70 674h0M74 692h0M65.3 673.9h0M62.5 659.7h0M64.4 668.7h0M68.8 669.5h0M65 684.1h0M64.6 666.4h0M64.6 671.7h0M67 653.5h0M74.1 664.8h0M60.4 662.1h0M60.4 666h0M71.4 642.8h0M60.2 655.5h0M60.8 677.8h0M62.9 678.6h0M71 692h0M65.1 691.9h0M65.2 653.7h0M61.7 645.5h0M70.9 662.8h0M60.6 673h0M73.7 643.3h0M68.9 675.2h0M73.3 671.9h0M68 651.4h0M64.6 689h0M61.2 662.9h0M62.2 672.9h0M62.4 650.9h0M60.8 633h0M65.9 680.8h0M63.5 664.8h0M66.7 647.3h0M66.2 653.5h0M60.6 691.1h0M67.2 675.2h0M70.6 669.3h0M73.8 660.6h0M61.6 651.6h0M66.4 650.6h0M64.3 679.7h0M66.6 684.7h0M74.2 689.5h0M66.6 665.9h0M67 646.6h0M64.3 667.4h0M65.5 660.4h0M74.3 669.8h0M67.3 682.3h0M65 661.8h0M71.4 674.1h0M72.6 671.1h0M71.3 652.4h0M70.1 682.1h0M65.3 655.6h0M70.2 648.6h0M71.2 663.3h0M70 679.6h0M69.5 658.1h0M68.5 692h0M63.7 681.1h0M69.8 667.1h0M69.4 644.5h0M71.6 671.1h0M70.7 656h0M72 680.1h0M72.6 652.4h0M70 684.7h0M67.6 692h0M67.7 661.5h0M73.6 677.5h0M67 685.7h0M70.6 659.1h0M62.6 648.1h0M69.7 669h0M66.2 650.5h0M69.3 651.2h0M70.5 651.5h0M66.5 673h0M69.5 667.2h0M69.2 669.5h0M60.7 683.9h0M60.9 657.5h0M62 667.5h0M62.9 662.9h0M60.6 672.9h0M68.9 654.5h0M68.6 668.5h0M60.1 668h0M65.9 691.9h0M61.8 663.8h0M72.1 678.1h0M68.9 663.7h0M61.5 668.3h0M68.5 655.5h0M73.9 662.9h0M71.8 671.2h0M69.3 654.6h0M68.7 661.5h0M68.2 670.9h0M68.9 692h0M65.2 657.6h0M61.7 666.4h0M68.2 665.7h0M69.2 661h0M72.9 661.6h0M63.4 656.9h0M64.3 675h0M73.9 677.6h0M73.3 664h0M74.2 658.3h0M67.2 660.7h0M74.3 656.9h0M67.2 671.3h0M61.9 662.9h0M69.1 679.3h0M71.4 656.6h0M72 669.5h0M64 680.7h0M73.6 667.2h0M64 667.8h0M62.3 657.2h0M68.9 676h0M66.9 665.3h0M70.8 656h0M61.8 653.1h0M67.8 666.7h0M64.9 655.9h0M66.8 661.7h0M65.3 680.1h0M60.6 665.5h0M63.7 650h0M72.9 640.3h0M68 673.4h0M66.3 686.7h0M68.4 667.9h0M67 661.6h0M73.2 649.6h0M72.4 657h0M62.9 673.9h0M61.1 659.5h0M72.1 687.6h0M64.2 661.6h0M71.3 654h0M67 671.6h0M68 662.5h0M62.3 655.2h0M68.5 666.2h0M63.4 667.7h0M71.9 661.8h0M60.5 670.6h0M70.5 648.9h0M70.2 692h0M60.8 660.3h0M69.4 670.6h0M73.8 658.9h0M64.3 664.5h0M73.3 659.7h0M66.1 675.7h0M62.4 679.3h0M61.7 663.4h0M65.6 663.5h0M68.4 669.7h0M70.8 667.8h0M66.3 670.7h0M64.6 661.5h0M73.6 654.8h0M65.5 657.8h0M62.3 683.4h0M69.2 672.4h0M68.1 639.7h0M69 665h0M63.8 664.7h0M70.9 681.1h0M63.5 659.6h0M65.4 665.3h0M70.4 665.4h0M69.5 658.5h0M61.4 681.3h0M61.9 675.1h0M72.7 658.6h0M67 661.1h0M60.5 656.5h0M70.5 685.2h0M73.8 672.5h0M69.9 668.3h0M74.1 667h0M69.7 671.9h0M69.1 668.8h0M65.2 660.1h0M68.9 667h0M65.1 676.8h0M72.1 661.1h0M69.4 670.3h0M72.4 670.3h0M67.6 654h0M70.8 652.9h0M65.8 657.4h0M63 668.6h0M60.7 667.8h0M71 676.5h0M60.1 657.2h0M69 641.2h0M66.3 670.7h0M62.3 660.6h0M62.4 667.2h0M72.8 657.6h0M62.3 674.4h0M62.4 665.8h0M64.2 675.7h0M60.6 667.3h0M73.4 679.7h0M70 646.8h0M69.8 686.8h0M61.8 637.5h0M69.7 671.1h0M70.6 661.4h0M62.5 683.4h0M63.4 666.8h0M61.2 668.6h0M65.3 639.7h0M64.6 684.8h0M70.6 656.4h0M70.4 668h0M69.8 670.6h0M73.6 673.6h0M74.1 658.2h0M60.2 655.9h0M66 685.4h0M60.7 673.8h0M67.6 633h0M65.1 655.1h0M73 669.8h0M67.2 668.6h0M63.6 669.7h0M60.8 664.4h0M63.8 662.6h0M66 668.5h0M60.6 664.7h0M74.1 669.7h0M65.9 672.1h0M67.8 678.9h0M61.7 675h0M67.9 671.3h0M72.4 680.3h0M63.2 658.3h0M67.1 680.9h0M68.3 667.6h0M70.5 654h0M73.2 677.8h0M72 661.4h0M63.3 678.3h0M61.4 673.8h0M71.2 672.9h0M62 670.4h0M61.3 656.6h0M66.3 666.2h0M68.4 671h0M70.2 666.1h0M60.8 670.3h0M65.5 669.1h0M61.5 675.4h0M70.9 656.9h0M68.1 671h0M71 679.9h0M68.4 655.4h0M69.5 645.3h0M73.8 673.9h0M64 663.4h0M71.8 647.5h0M61 661.3h0M62.5 670.3h0M64.2 664.6h0M61 684h0M60.5 667.3h0M60.8 650.7h0M72.5 673.7h0M73.8 674.2h0M66.3 659.4h0M65.3 660.4h0M68.5 665.1h0M72 667.7h0M67.7 665.2h0M62.6 660.7h0M73.6 662.7h0M71.5 653.4h0M73.3 673.7h0M66.7 673.1h0M71.2 654.1h0M73.6 671.2h0M68.7 634.9h0M61.6 659.5h0M60.9 670.9h0M74.2 654.5h0M67 681.4h0M72.8 669.2h0M64.1 659.5h0M63 671.2h0M70.9 655.6h0M63.6 661.7h0M74.2 660.6h0M72.2 673.3h0M65.9 675.8h0M62.2 652.5h0M60.6 672.8h0M62.5 653.9h0M73.1 681.5h0M63 677.1h0M69.9 669.1h0M72.5 655.8h0M65.5 650.6h0M60.2 651h0M62.8 650.1h0M65.7 664.8h0M64.6 664.8h0M65.6 668.6h0M65.8 647.5h0M74.2 668.8h0M70.1 676.9h0M69.8 641h0M65.3 645.1h0M68.6 661.1h0M64.2 659.7h0M61.2 652.8h0M68.5 675.6h0M71 671.9h0M73.5 663.7h0M64.1 656h0M70.9 665h0M69.7 661.5h0M70 690.7h0M72.2 659.2h0M63.1 664.8h0M67.5 649.6h0M74.1 673h0M67.9 660.6h0M65.7 665.3h0M62.7 666.6h0M73.2 651.3h0M68.9 644.9h0M70 661.6h0M68.1 669.8h0M72.9 663.5h0M63.2 654.7h0M69.1 662.8h0M73 674.9h0M71.1 674.4h0M63.3 680.8h0M72.1 680.3h0M72.8 671.9h0M66.2 664.3h0M67.7 653.7h0M64.1 674.4h0M68.8 660.3h0M60.5 673.6h0M61.8 664.4h0M62.7 650.9h0M62.8 659.7h0M70 651.7h0M70.6 656.3h0M72.1 678.8h0M73.9 671.2h0M69.4 656.2h0M73.4 687.3h0M72.2 668.4h0M67 684.4h0M62.4 672.3h0M61.4 670.7h0M61.6 675.6h0M71 679.5h0M71.7 664.1h0M70.4 644h0M69.1 692h0M74 652.2h0M61 670.5h0M63.1 669.4h0M69.9 656.6h0M70.8 675.4h0M67.9 676.5h0M65.5 672.1h0M65.5 678h0M69.9 676.9h0M73.7 635.2h0M61.1 666.9h0M64.4 667.2h0M61.8 646.9h0M70.7 654.9h0M73.3 667.5h0M67.3 658.7h0M70.1 672.7h0M64.4 669.8h0M65 650.8h0M60.8 674.4h0M66.2 654.1h0M61.2 667.4h0M64 683.7h0M74.3 677.3h0M67.9 673.8h0M61.4 644.9h0M65.2 684.3h0M71.1 666.5h0M65.3 664.9h0M66.7 675.1h0M65.6 666.9h0M63.2 662.1h0M74.1 665.6h0M61.3 653.3h0M64.1 670.8h0M67.4 683.6h0M60.9 660.9h0M66.4 649.7h0M68.6 679h0M69.3 680.1h0M60.6 656.1h0M66.1 686.3h0M72.7 669.1h0M65.6 678.2h0M74.5 642.3h0M62.2 667h0M71.3 640.7h0M74.4 637.7h0M63.2 681.1h0M66.9 657.6h0M64.2 670.5h0M62.5 662.9h0M66.7 660.7h0M73 676.5h0M72.8 671.3h0M72 666.8h0M73.9 668.2h0M63.5 660.7h0M73.4 662.2h0M62.8 668.8h0M66.3 664.8h0M65.5 663.9h0M71.3 686h0M74.1 674.4h0M70.2 677.8h0M69.4 670.9h0M65.5 669.1h0M68.5 656.7h0M74 676h0M63.9 666.9h0M68 681.5h0M67 665.3h0M70.3 659.6h0M66.1 686.6h0M67.4 667.1h0M60.9 649.6h0M67.3 652.4h0M65.1 677.5h0M60.4 668.8h0M69.5 662.1h0M73.4 678.5h0M70.4 655.9h0M73.6 676.7h0M64.4 692h0M62.5 654.9h0M66.6 670.4h0M70.7 664h0M73.4 654.3h0M64.4 663.9h0M62.1 644.6h0M65.2 658.8h0M63.1 650.5h0M66.6 666.6h0M65 670.8h0M62.2 667.9h0M64.1 675.2h0M71.4 664.1h0M72 665.5h0M69.1 656.7h0M63.6 653.1h0M63.9 676.9h0M73 675.2h0M62.6 657h0M70.8 668.5h0M68.2 669h0M72 669.6h0M67.2 666.2h0M68.6 668.4h0M61.8 663.5h0M68.9 663h0M63.3 649.8h0M61 671.5h0M70 664.2h0M66.7 669.7h0M69.4 668.5h0M61.1 680.9h0M69.4 654h0M71 669.4h0M63.8 660.9h0M71 665.8h0M67.5 666.6h0M62.3 677h0M63.2 658.2h0M63.1 663.6h0M61.4 692h0M66.2 663.1h0M69.1 669.9h0M62.1 661.7h0M67.2 660h0M68.4 661h0M73.2 653.9h0M67.2 671.8h0M67.8 673.5h0M69.6 678.4h0M66.1 657h0M64.3 670.9h0M61.7 643.7h0M72.9 665.3h0M63.9 677.3h0M73.9 654.2h0M61.8 653.5h0M61.6 667.4h0M69.2 655.2h0M60.8 674.9h0M74.1 652.8h0M70.5 653.3h0M63.9 677.4h0M61.5 657h0M61 671.8h0M72.6 663.4h0M61 653.9h0M73.7 663.6h0M71.5 673.2h0M61.6 677.3h0M66.1 657.4h0M68.2 666.4h0M64.3 668.8h0M73.5 677.2h0M73.7 675h0M71.2 660.5h0M61.8 667.2h0M74.3 661.1h0M67.9 664.8h0M68 657.2h0M74.1 669.7h0M67.5 658.6h0M73.3 669.6h0M73.3 653.5h0M64.8 677.5h0M62.1 671.5h0M60.9 652.3h0M66.5 678.5h0M73.3 661h0M64.2 653.4h0M70.8 659.7h0M71 665.5h0M68.8 679.5h0M70.1 671.4h0M70.6 672h0M62 692h0M62.5 691h0M69 677h0M72.4 673h0M61.6 675.6h0M68.5 681.9h0M60.9 665.9h0M70.5 677.3h0M64.9 680.7h0M68.6 680.2h0M72.7 657.1h0M73.3 655.3h0M72.7 663.8h0M62 676.6h0M74.2 655.1h0M61.9 672h0M70.6 654.7h0M60.1 649.3h0M72.4 675.7h0M69.6 662.4h0M69.8 645.9h0M65 676.9h0M70.3 664.4h0M68.9 651.9h0M67.2 668h0M60.1 659.2h0M72.2 671.2h0M60.7 646.1h0M61.8 652.6h0M63 663h0M63.5 689.2h0M72 662.2h0M69.4 659.1h0M63.4 656.4h0M69.6 665.7h0M68.5 667.7h0M66.4 665.4h0M64.5 651.8h0M68.7 664.9h0M71 654.5h0M61 648.8h0M63.9 672.2h0M60.9 669.7h0M60.3 660.3h0M66.7 666.6h0M66.4 660.3h0M67.6 670.5h0M60.5 653.1h0M69.1 671.8h0M72.1 646.3h0M72.4 651.6h0M69 653.5h0M74.3 690.7h0M63 669.2h0M61.5 676h0M65.4 670.4h0M60.1 673.2h0M66.3 670.5h0M65.7 660h0M62.5 684.4h0M70 690.4h0M63.2 658.7h0M66 655.2h0M60.5 673.5h0M70.1 646.3h0M72.5 671.6h0M72.6 657.7h0M73.3 647.4h0M69.6 669.3h0M69.6 654h0M66.5 680.1h0M62.8 653.2h0M69.9 661.7h0M71.2 674.1h0M72.2 671.3h0M65.4 679.8h0M65.3 679.6h0M62.2 675.2h0M62.2 665.7h0M66.2 667.4h0M68 667h0M73.9 666.8h0M73.4 671.4h0M61.2 656.8h0M60.9 666.8h0M68.8 667.1h0M71.7 666.6h0M66.6 652.3h0M67.8 680.3h0M62.6 658h0M71.9 654.4h0M63.4 671.8h0M61.1 659.9h0M67.8 687.2h0M68.7 669.4h0M61.5 683.4h0M64.7 664.5h0M72.4 653.8h0M69.9 667.9h0M61.9 655.8h0M69.3 661.1h0M73.3 665.4h0M67.5 663.7h0M66.9 663.4h0M64.1 659.6h0M66.6 668.4h0M63.6 682.2h0M64.3 673.8h0M73.5 674.6h0M64.3 671.5h0M73.7 675.1h0M61.4 672.3h0M69.9 661.5h0M66.7 672.9h0M64.8 685.5h0M70 679.8h0M60.9 642.7h0M63.4 673.1h0M71.9 663.9h0M67.3 675.2h0M72.3 657.9h0M68.3 677.7h0M69 649.3h0M65.9 671.3h0M66.4 660.3h0M72.8 668.8h0M68.8 662.1h0M68.6 676.7h0M70.7 671.9h0M60.7 677.6h0M73.1 681.6h0M61.1 678.7h0M64.2 680.7h0M69.6 674.2h0M62.4 678.9h0M64.9 668.8h0M72.4 661h0M72.2 652.6h0M62.7 649h0M66.9 650.1h0M61.7 658.9h0M72.8 681.2h0M73.7 651.6h0M73.6 681.3h0M74.5 647.7h0M62 681.1h0M66.7 665.7h0M64.1 646.7h0M73.5 671.7h0M65.9 677h0M66.4 665.4h0M68.9 682.7h0M60.6 656.5h0M71.9 668.8h0M67.3 661.1h0M68.5 658.5h0M71.3 640.2h0M64.5 665.4h0M62.4 657.3h0M73.6 680h0M64 679.5h0M67.7 670h0M74.3 674.2h0M71.4 668.4h0M60.6 668.4h0M61.9 679h0M64.6 678.4h0M63.7 692h0M74.4 671.3h0M70.8 668.3h0M71.4 686h0M63.8 655.1h0M61 670.6h0M62.6 674.3h0M60.3 663.4h0M64.5 652.3h0M70.6 679.7h0M70.6 647h0M65.6 679h0M68.4 657.9h0M63.8 665.3h0M66.7 669.2h0M63.7 669.6h0M65.4 669.4h0M72.2 679.4h0M70.8 662.3h0M65.8 657.2h0M64.7 660.2h0M71.5 650.3h0M64.4 648.4h0M68.5 666.9h0M63.4 667.3h0M63.4 676.2h0M63.1 666.4h0M64.2 657.9h0M70.6 652.3h0M61.8 673.3h0M68.6 692h0M67.1 660.6h0M72.7 647.3h0M61.2 653.3h0M62.8 652.7h0M61.5 651.3h0M70.8 669.2h0M67.6 658.2h0M72.2 677.2h0M68.8 661.1h0M69.5 680.6h0M66.9 662.3h0M68.8 675h0M66.5 662h0M68.2 660.9h0M73.5 667.9h0M60.4 671.2h0M60.5 656h0M64 666.1h0M73.2 672.4h0M61.2 676.3h0M69.1 655h0M60.4 680.8h0M73 667.3h0M66.5 675.7h0M67.1 665.3h0M62.3 679.7h0M67 656.5h0M67.8 649.4h0M68.9 669.9h0M60.7 636.2h0M64.9 648.3h0M70 665.4h0M68.9 654.8h0M69.7 678.3h0M70.3 682.8h0M70.2 657.5h0M69 668h0M61 682.4h0M67.2 666.2h0M67.6 657.4h0M66.8 662.5h0M73.6 645.9h0M74.4 651.5h0M64.8 671.4h0M61.3 659.3h0M71.3 636.7h0M71.5 657.4h0M72.5 653.8h0M69 674.4h0M70.2 677h0M72 686.9h0M61 660.4h0M73.7 642.2h0M71 677.9h0M67.8 655.7h0M69.7 683.8h0M70.4 650.4h0M74.1 647.7h0M69.6 652h0M68.2 666.6h0M64.7 692h0M67.3 675.2h0M73.5 673.5h0M64.1 668.1h0M63.6 659.4h0M69.7 686.9h0M67 642.8h0M64.8 655.4h0M60.1 665.3h0M61.8 677.4h0M71.2 672.2h0M73.7 674.4h0M64.3 660.5h0M69.2 673.2h0M67.6 660.1h0M64 666.8h0M61.6 679h0M66.4 682.6h0M72.7 667.5h0M64.7 651.1h0M73 669.4h0M66.2 664.8h0M74.3 675.3h0M70.4 666.2h0M60.2 664.2h0M64.5 644.2h0M73.2 640.3h0M62.3 671.6h0M64.5 681.2h0M61.3 664.8h0M66.6 653h0M64.6 672.5h0M64.5 678.9h0M71.3 661.6h0M61.6 666.5h0M63.5 678.6h0M67.6 682.7h0M69.8 665.7h0M65.4 659.2h0M62.2 653.1h0M65.9 672h0M60.2 667.1h0M63.5 661h0M64.6 656.3h0M72.4 657.8h0M67.1 666.4h0M72.9 670.6h0M68.4 668.1h0M60.8 661.1h0M72.9 684.3h0M60.8 682.3h0M66.2 659.1h0M63.1 674.4h0M63.5 652.2h0M62.7 679.4h0M66.5 671.7h0M67.2 686.4h0M71.4 650.3h0M72.6 685.4h0M67.1 687.8h0M74.2 673.6h0M64.7 659.4h0M73.6 686.3h0M70.6 655.5h0M69.5 674.7h0M73.2 670.3h0M65.1 664.6h0M65.1 662.9h0M67.5 670.1h0M65.5 673.5h0M73.7 664.7h0M68.7 678.3h0M60.5 666.3h0M72.8 638.1h0M70.7 672.6h0M70.9 670.5h0M70.5 655.8h0M66.3 657h0M61.7 668.9h0M60.6 673.9h0M65.1 692h0M66 657.3h0M67.2 662.2h0M62.6 686.6h0M60.8 686.6h0M66.7 647.7h0M65.3 669.1h0M64.4 682.8h0M67.3 660.7h0M67.1 681.5h0M73.7 660.3h0M66.4 653.7h0M69.1 673.2h0M68.6 639.2h0M62.9 670.7h0M66.1 647.7h0M70 667.4h0M64.8 668.1h0M60.4 665.9h0M69.8 668.8h0M69.8 657.9h0M73.2 676h0M74.3 663.4h0M62.7 658h0M64.2 650.9h0M72.9 657.6h0M62.1 651.5h0M72.1 654h0M70.7 662.1h0M64.7 682.2h0M74.2 665h0M69.6 676.7h0M69.5 650.8h0M63.9 668.8h0M68.5 671.1h0M68.7 668.6h0M72.4 682.6h0M74.3 663.7h0M66.9 653.4h0M65.5 666.3h0M61.9 667h0M73.9 650.3h0M68 646.3h0M68.6 662.7h0M62 660.7h0M70.6 663.3h0M71.8 662.3h0M70.9 671.1h0M62 667h0M71 654.2h0M70.1 669.8h0M64 683.4h0M71.5 682h0M68.6 666.2h0M70.6 674.6h0M66.4 665.2h0M63.4 657.1h0M68 661.1h0M68.8 645.5h0M67.3 649.6h0M66 656.2h0M63.9 652.3h0M60.6 661.1h0M62.5 655.2h0M69.5 654.4h0M67.2 680.2h0M65.2 670.3h0M70.9 656.2h0M72.9 660.6h0M60.5 654.6h0M72.8 642.9h0M62.9 660.6h0M73.6 671.2h0M64.8 652.1h0M74.4 657.2h0M65 651.2h0M69.9 661.2h0M61.1 670h0M62.8 669.9h0M73.8 660.5h0M65.1 645.9h0M63.6 666.2h0M62.9 642.8h0M73.1 691.1h0M63.9 679.4h0M70.6 653.8h0M63.3 679.3h0M68.9 657h0M62.3 681.4h0M63 661.7h0M60.1 663.4h0M65.5 663.3h0M61.2 665.3h0M68.2 680h0M68.5 661.3h0M67.7 656.6h0M69.3 669.8h0M68.2 650.7h0M61.7 668.4h0M72.6 661.2h0M73 666.8h0M68.9 664.7h0M65.5 677.5h0M61.7 651.3h0M66.9 667.7h0M64 647.2h0M66.8 647.5h0M63.1 687.2h0M62.6 692h0M62.9 663.1h0M66.9 664.5h0M69.9 654.2h0M63 663.7h0M63.3 681.9h0M73 653.8h0M62.2 662.4h0M65 674.1h0M61.6 661.3h0M65.3 652.4h0M72.1 692h0M62.8 684.3h0M66.3 663.3h0M64.9 670.5h0M62.5 673.9h0M64.3 659.8h0M63.8 652.8h0M66.4 669.7h0M61.2 670.6h0M71.2 656.9h0M63.9 664.7h0M73.5 683.9h0M63.4 643.3h0M72.8 678.2h0M66.8 660.2h0M71 657h0M65.4 663.6h0M66.3 680h0M60.5 653.5h0M65.4 664.5h0M68.5 678.4h0M73 679.5h0M73.8 666.4h0M68.8 659.1h0M74.5 649.1h0M67.2 669.3h0M73.6 653.1h0M64.5 650.6h0M69.7 660.8h0M74.5 637.3h0M74.4 668.1h0M61.1 669.4h0M65 664.9h0M63.8 673.1h0M61.5 652.4h0M62.2 666h0M70.8 672.3h0M69 668.5h0M62 672.8h0M72.7 674.7h0M70.6 650.9h0M66.2 664.9h0M65.6 656.6h0M66.4 645.4h0M71.6 682.6h0M63.1 662.6h0M68.4 662.3h0M63.7 668.1h0M65.5 657.5h0M73.4 653.9h0M68.9 669.2h0M67.4 664.1h0M62.4 676.8h0M69.6 662.6h0M72.6 668.8h0M65.6 679h0M68.2 656.4h0M67.9 659h0M67.3 663.4h0M72.1 670.2h0M69.3 678.3h0M69.2 661.8h0M68.1 673.8h0M66 662h0M69.1 678.9h0M67.8 674.4h0M68.2 658h0M63.7 661.5h0M73.4 658.2h0M63.8 677.1h0M67.2 680.4h0M62.6 657.5h0M73.9 668.7h0M70.7 672.5h0M65.4 667.6h0M74.2 673h0M63.1 685.5h0M74.5 662.8h0M68.7 654.4h0M62 680h0M66.5 655.1h0M61.4 664.1h0M74.4 659.4h0M61 681.4h0M70.2 658h0M70.4 686.9h0M66.4 664.5h0M67.3 647.5h0M61.2 645.8h0M70.3 684.1h0M73.6 689.4h0M69.9 669.4h0M66.3 670.5h0M71.1 657.5h0M71.4 668h0M67.2 664.1h0M65.8 653.4h0M66.9 655.6h0M74 668.3h0M69.8 668.1h0M71.9 659.9h0M73.6 651.9h0M61.1 686.8h0M66.8 657.7h0M68 657.7h0M72.9 676.8h0M63.7 652.9h0M62.7 669.5h0M71.7 654.5h0M73 658.4h0M67.2 662h0M64.8 650h0M67.9 635h0M67.8 656.6h0M74 663.2h0M69.9 662.9h0M69 657.1h0M65.5 653.9h0M71.3 679.1h0M64.4 649h0M62.6 680.5h0M67.6 608.5h0M66 618h0M61 623.5h0M64 623.5h0M69.5 623.5h0M72 626h0M60 629h0M74 630h0" stroke="#2f6a2a" stroke-width="2.4" stroke-linecap="round" fill="none"/>
<circle cx="69.8" cy="621.5" r="1.1" fill="#fff" stroke="#444" stroke-width="0.5"/>
<path d="M144 637.8h0M145.9 646.9h0M144.1 632.7h0M143.6 645.8h0M138 641.4h0M132.1 652.1h0M131.9 644.2h0M132.3 653.7h0M144.6 632.3h0M145.4 634.3h0M142.2 636h0M135.4 631.9h0M141.1 650.3h0M142 631h0M135.5 634.6h0M132.4 620.2h0M130.6 618.8h0M134.5 665.1h0M143.9 635.9h0M132.8 654h0M135.4 643h0M141.6 642.5h0M138.2 623.1h0M135.8 646.5h0M145.2 637.9h0M141.7 643.1h0M142.5 648.2h0M138.1 646h0M132.3 640.8h0M143.2 619.3h0M142 643.1h0M143 647.8h0M141.7 636.8h0M134.7 653.1h0M132.1 602.9h0M145.1 654.8h0M133.9 667h0M133.2 612.4h0M144.8 633.6h0M139.1 644h0M138 649.3h0M145.3 628.3h0M143.7 647.6h0M139.4 647.6h0M142.4 649.5h0M139.8 602h0M133.5 641.1h0M135.2 625h0M130.5 655.2h0M140.3 633.8h0M137.9 659.2h0M137.3 640.3h0M137.8 628.8h0M144.5 627.9h0M141.6 658.2h0M141.5 626.2h0M134.3 645.9h0M133.3 655.3h0M143 650h0M143.3 638.1h0M132.8 638.6h0M140.3 642.6h0M139.6 637.9h0M132.6 629.2h0M142.5 628.6h0M139 622h0M134.3 640.3h0M136.5 640.6h0M145.3 645.6h0M140.9 643.2h0M143.9 622.6h0M140.2 633.4h0M145.5 629.4h0M145.3 646.7h0M140.3 654.9h0M135.5 660.6h0M141.9 637.4h0M138.9 631.2h0M144.5 637.2h0M145.3 638.7h0M141.6 641.8h0M131.9 630.2h0M137.5 629.5h0M134.6 637.6h0M133.8 653.5h0M132.8 647h0M130.4 637.7h0M145.6 646.8h0M136.7 666.8h0M131.9 650.4h0M130.9 627h0M138.7 647.7h0M141.4 651.9h0M143.5 641.5h0M145.2 646.8h0M135 652.9h0M143.8 648.2h0M135.5 647.6h0M139.9 625.5h0M133.2 614.6h0M137.7 629.5h0M139.8 642.4h0M138.1 660.6h0M143 638h0M140.7 632.5h0M134.3 640.6h0M137.8 644h0M130.5 653.5h0M138.2 619.8h0M135.9 666.4h0M138 621.6h0M136.5 646.4h0M140.9 631.9h0M136.8 635.9h0M140.2 637.7h0M133.1 629.4h0M130.2 625.9h0M132 642.4h0M143 619.6h0M143.5 646.5h0M133.1 652.7h0M132.4 609.2h0M133 655.8h0M135.1 658.6h0M133.4 659.3h0M133.8 662.7h0M130.6 624.2h0M139.3 629.7h0M138.2 624.8h0M142.8 637.9h0M135.3 652.4h0M130.7 617.8h0M140.2 638h0M137.7 641.6h0M141.7 640.5h0M141.1 616.4h0M140.2 630.6h0M133.5 659.2h0M138.5 651h0M133.2 630.2h0M141.9 648.2h0M143.5 628.1h0M137.4 623.9h0M133.8 638.9h0M130.6 649.9h0M130.5 613.1h0M137 635.8h0M135.5 642h0M139.3 642.3h0M144.7 663.4h0M139.9 645.4h0M142.4 653h0M136.2 633.5h0M139.1 644.7h0M143.5 659.5h0M143.3 637.2h0M143.3 627.1h0M141.6 647.7h0M141.7 634.2h0M134.7 646h0M141 640.1h0M140.3 650.8h0M137.7 657h0M144.2 634.3h0M145.8 652.2h0M135.3 654.3h0M130.4 644.7h0M141.7 646.2h0M136.8 578.4h0M135.6 595h0M137.5 595h0" stroke="#d12b22" stroke-width="2.8" stroke-linecap="round" fill="none"/>
<circle cx="139" cy="595" r="1.1" fill="#fff" stroke="#444" stroke-width="0.5"/>
<path d="M68.3 580V577.7H138V580" fill="none" stroke="#777" stroke-width="0.6"/>
<path d="M100.4 577.6h0M103.2 577.6h0M106 577.6h0" stroke="#222" stroke-width="2" stroke-linecap="round" fill="none"/>
<text x="21.5" y="707.8" font-size="8.45" text-anchor="start" font-weight="bold" fill="#111" stroke="#111" stroke-width="0.22" >Non−tumor brain tissues</text>
<text x="138.3" y="707.8" font-size="8.2" text-anchor="middle" font-weight="bold" fill="#111" stroke="#111" stroke-width="0.22" >GBM</text>
<text x="67" y="721.3" font-size="8.5" text-anchor="middle" font-weight="bold" fill="#111" stroke="#111" stroke-width="0.22" >(N=1157)</text>
<text x="137.3" y="721.3" font-size="8.3" text-anchor="middle" font-weight="bold" fill="#111" stroke="#111" stroke-width="0.22" >(N=168)</text>
<text x="0" y="0" font-size="12.1" font-weight="bold" fill="#111" text-anchor="middle" transform="translate(12.4 634.5) rotate(-90)">NID2 expression</text>
<text x="189.5" y="556.5" font-size="14.5" text-anchor="start" font-weight="bold" fill="#111" >F</text>
<text x="212" y="555.4" font-size="12" text-anchor="start" font-weight="bold" fill="#111" >GSE7696</text>
<rect x="211.2" y="574.4" width="153.4" height="121.6" fill="none" stroke="#777" stroke-width="0.8"/>
<line x1="208.5" y1="694.6" x2="211.2" y2="694.6" stroke="#777" stroke-width="0.6"/>
<text x="0" y="0" font-size="4.6" fill="#666" text-anchor="middle" transform="translate(205.1 694.6) rotate(-90)">5</text>
<line x1="208.5" y1="673.1" x2="211.2" y2="673.1" stroke="#777" stroke-width="0.6"/>
<text x="0" y="0" font-size="4.6" fill="#666" text-anchor="middle" transform="translate(205.1 673.1) rotate(-90)">6</text>
<line x1="208.5" y1="651.6" x2="211.2" y2="651.6" stroke="#777" stroke-width="0.6"/>
<text x="0" y="0" font-size="4.6" fill="#666" text-anchor="middle" transform="translate(205.1 651.6) rotate(-90)">7</text>
<line x1="208.5" y1="630" x2="211.2" y2="630" stroke="#777" stroke-width="0.6"/>
<text x="0" y="0" font-size="4.6" fill="#666" text-anchor="middle" transform="translate(205.1 630) rotate(-90)">8</text>
<line x1="208.5" y1="608.5" x2="211.2" y2="608.5" stroke="#777" stroke-width="0.6"/>
<text x="0" y="0" font-size="4.6" fill="#666" text-anchor="middle" transform="translate(205.1 608.5) rotate(-90)">9</text>
<line x1="208.5" y1="587" x2="211.2" y2="587" stroke="#777" stroke-width="0.6"/>
<text x="0" y="0" font-size="4.6" fill="#666" text-anchor="middle" transform="translate(205.1 587) rotate(-90)">10</text>
<line x1="238.6" y1="680.2" x2="266.6" y2="680.2" stroke="#999" stroke-width="0.9"/>
<line x1="238.6" y1="690" x2="266.6" y2="690" stroke="#999" stroke-width="0.9"/>
<rect x="224.2" y="680.7" width="56.8" height="8.5" fill="none" stroke="#555" stroke-width="0.7"/>
<line x1="224.2" y1="684.4" x2="281" y2="684.4" stroke="#333" stroke-width="1.3"/>
<line x1="323.3" y1="589.5" x2="323.3" y2="629.3" stroke="#666" stroke-width="0.6" stroke-dasharray="1 1"/>
<line x1="323.3" y1="657.4" x2="323.3" y2="692.2" stroke="#666" stroke-width="0.6" stroke-dasharray="1 1"/>
<line x1="309.3" y1="589.5" x2="337.3" y2="589.5" stroke="#999" stroke-width="0.9"/>
<line x1="309.3" y1="692.2" x2="337.3" y2="692.2" stroke="#999" stroke-width="0.9"/>
<rect x="295" y="629.3" width="56.6" height="28.1" fill="none" stroke="#555" stroke-width="0.7"/>
<line x1="295" y1="644.8" x2="351.6" y2="644.8" stroke="#333" stroke-width="1.3"/>
<path d="M245.5 681h0M259.5 681h0M251.5 690h0M255.5 688.5h0" stroke="#2f6a2a" stroke-width="2.4" stroke-linecap="round" fill="none"/>
<path d="M317.9 626.2h0M328.8 649.5h0M329.3 668.6h0M317 646h0M316.4 618.9h0M321.5 635.7h0M326.7 638.7h0M318.2 624h0M323.4 645.7h0M329.7 654.7h0M321.6 615.9h0M327 626.4h0M325.9 658.3h0M326.7 654.9h0M319.8 637.4h0M318.9 649h0M318.8 637.9h0M329.1 680.7h0M321.5 649.9h0M323.2 640.4h0M329.4 665.8h0M317.5 648.1h0M324.5 636.7h0M329.2 639.2h0M317.1 645.7h0M323.9 647.5h0M323.3 653.4h0M329.6 645.9h0M325.4 627.3h0M317.2 654.7h0M324.9 634.2h0M330.2 639.1h0M324.9 669h0M318 653.5h0M330.8 637.5h0M317.6 692h0M319.4 631.4h0M325 597.8h0M325.9 663.4h0M324.7 650.1h0M321 646.3h0M328.8 636.6h0M321.8 626.1h0M330.6 633.9h0M327.8 641.6h0M320.7 643.3h0M322.5 632.3h0M320.7 650.6h0M317.3 668.9h0M327.6 659.9h0M327.9 679.4h0M323.3 650.5h0M326.9 641.2h0M322.2 630.4h0M321.8 651.2h0M321.4 692h0M325.8 657.2h0M318.4 630.2h0M316.6 653.6h0M330.4 632.1h0M330.6 667.6h0M324.9 687.8h0M318.9 652.1h0M321.6 645.5h0M321.1 605.2h0M317.9 611.4h0M317.1 634.9h0M324.1 640.9h0M322.6 642.5h0M326.4 638.1h0M329.1 646.7h0M318.3 625.4h0M329 637.6h0M323.2 611.4h0M323.7 650.1h0M318.4 648.7h0M327.5 639.2h0M319.1 638.9h0M322.7 657.4h0M324.2 646h0M322 578.7h0M317 584.7h0" stroke="#d12b22" stroke-width="2.8" stroke-linecap="round" fill="none"/>
<circle cx="323.5" cy="584.7" r="1.1" fill="#fff" stroke="#444" stroke-width="0.5"/>
<path d="M252.8 579.5V576.5H323V579.5" fill="none" stroke="#777" stroke-width="0.6"/>
<path d="M286.8 576.4h0M289.6 576.4h0" stroke="#222" stroke-width="2" stroke-linecap="round" fill="none"/>
<text x="206" y="708.2" font-size="8.35" text-anchor="start" font-weight="bold" fill="#111" stroke="#111" stroke-width="0.22" >Non−tumor brain tissues</text>
<text x="322.5" y="708.2" font-size="8.2" text-anchor="middle" font-weight="bold" fill="#111" stroke="#111" stroke-width="0.22" >GBM</text>
<text x="255" y="721.8" font-size="8.3" text-anchor="middle" font-weight="bold" fill="#111" stroke="#111" stroke-width="0.22" >(N=4)</text>
<text x="324.2" y="721.8" font-size="8.3" text-anchor="middle" font-weight="bold" fill="#111" stroke="#111" stroke-width="0.22" >(N=80)</text>
<text x="0" y="0" font-size="12.1" font-weight="bold" fill="#111" text-anchor="middle" transform="translate(198 636.5) rotate(-90)">NID2 expression</text>
<text x="369" y="556.4" font-size="14.5" text-anchor="start" font-weight="bold" fill="#111" >G</text>
<text x="392.7" y="554.6" font-size="11.95" text-anchor="start" font-weight="bold" fill="#111" >GSE4290</text>
<rect x="394" y="573.7" width="149.4" height="121.1" fill="none" stroke="#777" stroke-width="0.8"/>
<line x1="391.3" y1="666.3" x2="394" y2="666.3" stroke="#777" stroke-width="0.6"/>
<text x="0" y="0" font-size="4.6" fill="#666" text-anchor="middle" transform="translate(387.9 666.3) rotate(-90)">10</text>
<line x1="391.3" y1="636.9" x2="394" y2="636.9" stroke="#777" stroke-width="0.6"/>
<text x="0" y="0" font-size="4.6" fill="#666" text-anchor="middle" transform="translate(387.9 636.9) rotate(-90)">12</text>
<line x1="391.3" y1="607.4" x2="394" y2="607.4" stroke="#777" stroke-width="0.6"/>
<text x="0" y="0" font-size="4.6" fill="#666" text-anchor="middle" transform="translate(387.9 607.4) rotate(-90)">14</text>
<line x1="391.3" y1="578" x2="394" y2="578" stroke="#777" stroke-width="0.6"/>
<text x="0" y="0" font-size="4.6" fill="#666" text-anchor="middle" transform="translate(387.9 578) rotate(-90)">16</text>
<line x1="434.7" y1="614" x2="434.7" y2="633.6" stroke="#666" stroke-width="0.6" stroke-dasharray="1 1"/>
<line x1="434.7" y1="650" x2="434.7" y2="669.6" stroke="#666" stroke-width="0.6" stroke-dasharray="1 1"/>
<line x1="420.8" y1="614" x2="448.6" y2="614" stroke="#999" stroke-width="0.9"/>
<line x1="420.8" y1="669.6" x2="448.6" y2="669.6" stroke="#999" stroke-width="0.9"/>
<rect x="406.1" y="633.6" width="57.3" height="16.4" fill="none" stroke="#555" stroke-width="0.7"/>
<line x1="406.1" y1="640.2" x2="463.3" y2="640.2" stroke="#333" stroke-width="1.3"/>
<line x1="505.3" y1="578" x2="505.3" y2="607.4" stroke="#666" stroke-width="0.6" stroke-dasharray="1 1"/>
<line x1="505.3" y1="634.3" x2="505.3" y2="665.7" stroke="#666" stroke-width="0.6" stroke-dasharray="1 1"/>
<line x1="491" y1="578" x2="519.6" y2="578" stroke="#999" stroke-width="0.9"/>
<line x1="491" y1="665.7" x2="519.6" y2="665.7" stroke="#999" stroke-width="0.9"/>
<rect x="476.3" y="607.4" width="58" height="26.9" fill="none" stroke="#555" stroke-width="0.7"/>
<line x1="476.3" y1="621.2" x2="534.3" y2="621.2" stroke="#333" stroke-width="1.3"/>
<path d="M436.9 638.9h0M438.9 659.7h0M430.5 643.7h0M431.4 648.7h0M435.1 639.3h0M431.3 633.2h0M438.8 636.2h0M436 653.3h0M430.5 650.4h0M439.2 640.9h0M438.6 648.6h0M437.6 618.1h0M431.8 661.9h0M438.9 632.8h0M435.5 618.3h0M433.9 641.8h0M432.5 630.9h0M430.1 650.4h0M440.5 649.9h0M437 618.9h0M430.3 619.6h0M436.8 632.8h0M430.5 679.4h0M434 614.5h0" stroke="#2f6a2a" stroke-width="2.7" stroke-linecap="round" fill="none"/>
<circle cx="434.8" cy="679.4" r="1.1" fill="#fff" stroke="#444" stroke-width="0.5"/>
<path d="M500.2 612.1h0M504.8 625.7h0M506 621.6h0M503 640.9h0M500.7 635.5h0M500.7 636.5h0M498.4 627.6h0M506.7 637.3h0M507.7 638.2h0M510.7 617.2h0M508.9 631.1h0M509.4 624.5h0M503.3 615.6h0M509.8 614.3h0M500.2 645.1h0M509.6 601.9h0M499.3 602.9h0M511.3 641.1h0M500.3 600.3h0M506.2 605.5h0M502.5 602.1h0M507.8 610.9h0M499.7 614.3h0M507.2 633.9h0M498.3 631.3h0M506.6 629.9h0M497.9 602h0M503.6 614.6h0M497.3 617.9h0M511.7 628.3h0M501.2 632.4h0M505.9 632h0M502.6 638.9h0M509.3 631h0M504.5 637.3h0M511.3 622.6h0M506.9 602.8h0M501.6 620h0M510.4 641.7h0M507.9 626h0M509.5 620.7h0M501 647.8h0M500.8 608.4h0M501.4 613.6h0M497.8 626.5h0M503 637.1h0M505.9 646.5h0M497.4 636.9h0M504.2 623.6h0M505.3 611.1h0M503.6 615h0M499.3 634.2h0M509.2 627.4h0M500.4 615.7h0M497.8 616.5h0M499.1 637.9h0M509.9 610.2h0M511.6 636.1h0M499.2 642.3h0M508.9 627.7h0M505.2 606.1h0M499.1 654.2h0M509.8 634.8h0M499.5 622.4h0M502.3 605.8h0M508.8 624.2h0M506.9 628.1h0M510.8 648.4h0M503.6 584h0M505.6 617.2h0M510.2 598.4h0M499 599.6h0M509 635.7h0M505 637.9h0M501.6 608.7h0M511.4 675.2h0M505.8 691h0M504 578.5h0M500 582h0M508 585h0M503 588h0M498 592h0M510 595h0" stroke="#d12b22" stroke-width="2.8" stroke-linecap="round" fill="none"/>
<circle cx="504.2" cy="675.2" r="1.1" fill="#fff" stroke="#444" stroke-width="0.5"/>
<path d="M434.8 579V574.7H504.2V579" fill="none" stroke="#777" stroke-width="0.6"/>
<path d="M466.9 574.8h0M469.7 574.8h0M472.5 574.8h0" stroke="#222" stroke-width="2" stroke-linecap="round" fill="none"/>
<text x="387" y="708.2" font-size="8.5" text-anchor="start" font-weight="bold" fill="#111" stroke="#111" stroke-width="0.22" >Non−tumor brain tissues</text>
<text x="506.3" y="708.2" font-size="8.2" text-anchor="middle" font-weight="bold" fill="#111" stroke="#111" stroke-width="0.22" >GBM</text>
<text x="436.2" y="721.2" font-size="8.3" text-anchor="middle" font-weight="bold" fill="#111" stroke="#111" stroke-width="0.22" >(N=23)</text>
<text x="507.5" y="721.2" font-size="8.3" text-anchor="middle" font-weight="bold" fill="#111" stroke="#111" stroke-width="0.22" >(N=77)</text>
<text x="0" y="0" font-size="12.2" font-weight="bold" fill="#111" text-anchor="middle" transform="translate(379 636.5) rotate(-90)">NID2 expression</text>
</svg></body></html>
